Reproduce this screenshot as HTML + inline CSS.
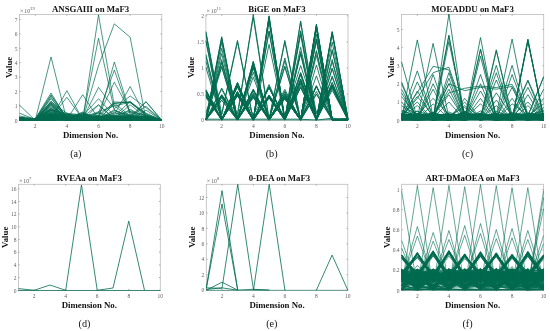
<!DOCTYPE html><html><head><meta charset="utf-8"><style>html,body{margin:0;padding:0;background:#fff;overflow:hidden}svg{display:block;filter:blur(0.25px)}</style></head><body>
<svg width="550" height="331" viewBox="0 0 550 331">
<rect width="550" height="331" fill="#fff"/>
<rect x="19.40" y="14.50" width="142.40" height="105.80" fill="none" stroke="#bcbcbc" stroke-width="0.8"/>
<path d="M35.22 120.30v-1.30M35.22 14.50v1.30M66.87 120.30v-1.30M66.87 14.50v1.30M98.51 120.30v-1.30M98.51 14.50v1.30M130.16 120.30v-1.30M130.16 14.50v1.30M19.40 120.30h1.30M161.80 120.30h-1.30M19.40 105.91h1.30M161.80 105.91h-1.30M19.40 91.51h1.30M161.80 91.51h-1.30M19.40 77.12h1.30M161.80 77.12h-1.30M19.40 62.72h1.30M161.80 62.72h-1.30M19.40 48.33h1.30M161.80 48.33h-1.30M19.40 33.93h1.30M161.80 33.93h-1.30M19.40 19.54h1.30M161.80 19.54h-1.30" stroke="#8c8c8c" stroke-width="0.7" fill="none"/>
<clipPath id="c0"><rect x="19.00" y="14.10" width="143.20" height="106.60"/></clipPath>
<g clip-path="url(#c0)" fill="none" stroke="#006c50" stroke-width="0.70" stroke-linejoin="miter" stroke-opacity="1.00">
<polyline points="19.4,119.58 35.22,120.3 51.04,56.96 66.87,120.3 82.69,118.86 98.51,117.42 114.33,118.86 130.16,118.86 145.98,119.58 161.8,120.3"/>
<polyline points="19.4,120.01 35.22,120.3 51.04,118.86 66.87,118.86 82.69,120.3 98.51,14.93 114.33,105.91 130.16,117.42 145.98,118.86 161.8,120.3"/>
<polyline points="19.4,120.01 35.22,119.58 51.04,119.58 66.87,119.58 82.69,118.86 98.51,38.25 114.33,110.22 130.16,115.98 145.98,118.86 161.8,120.3"/>
<polyline points="19.4,120.3 35.22,119.58 51.04,118.86 66.87,117.42 82.69,119.58 98.51,65.6 114.33,23.86 130.16,37.24 145.98,119.58 161.8,120.3"/>
<polyline points="19.4,119.58 35.22,119.58 51.04,119.58 66.87,117.42 82.69,118.86 98.51,118.86 114.33,62 130.16,113.1 145.98,115.98 161.8,120.3"/>
<polyline points="19.4,119.58 35.22,120.3 51.04,118.86 66.87,118.86 82.69,117.42 98.51,113.1 114.33,70.06 130.16,114.54 145.98,117.42 161.8,120.3"/>
<polyline points="19.4,119.58 35.22,119.58 51.04,117.42 66.87,115.98 82.69,118.86 98.51,115.98 114.33,82.15 130.16,111.66 145.98,118.86 161.8,120.3"/>
<polyline points="19.4,105.04 35.22,120.3 51.04,115.98 66.87,117.42 82.69,118.86 98.51,115.98 114.33,115.98 130.16,115.98 145.98,118.86 161.8,120.3"/>
<polyline points="19.4,113.1 35.22,119.58 51.04,111.66 66.87,119.58 82.69,94.68 98.51,118.86 114.33,113.1 130.16,114.54 145.98,118.86 161.8,120.3"/>
<polyline points="19.4,117.42 35.22,120.3 51.04,118.86 66.87,90.65 82.69,119.58 98.51,117.42 114.33,114.54 130.16,86.47 145.98,117.42 161.8,120.3"/>
<polyline points="19.4,118.86 35.22,120.3 51.04,117.42 66.87,97.27 82.69,118.86 98.51,87.34 114.33,108.78 130.16,95.97 145.98,107.63 161.8,120.3"/>
<polyline points="19.4,115.98 35.22,118.86 51.04,92.95 66.87,118.86 82.69,115.98 98.51,98.71 114.33,115.98 130.16,101.59 145.98,113.1 161.8,120.3"/>
<polyline points="19.4,118.86 35.22,119.58 51.04,95.83 66.87,117.42 82.69,117.42 98.51,111.66 114.33,105.91 130.16,102.31 145.98,114.54 161.8,120.3"/>
<polyline points="19.4,120.11 35.22,120.26 51.04,109.94 66.87,120.29 82.69,118.48 98.51,119.55 114.33,120.27 130.16,118.94 145.98,120.29 161.8,120.19"/>
<polyline points="19.4,120.3 35.22,120.29 51.04,116.26 66.87,115.83 82.69,120.25 98.51,119.99 114.33,118.31 130.16,116.12 145.98,118.8 161.8,120.21"/>
<polyline points="19.4,117.32 35.22,120.3 51.04,101.26 66.87,119.98 82.69,120.23 98.51,120.2 114.33,119.75 130.16,117.1 145.98,120.11 161.8,120.11"/>
<polyline points="19.4,119.27 35.22,120.06 51.04,113.22 66.87,120.29 82.69,120.29 98.51,120.03 114.33,118 130.16,119.3 145.98,119.8 161.8,120.1"/>
<polyline points="19.4,119.86 35.22,120.14 51.04,104.25 66.87,117.36 82.69,120.05 98.51,118.6 114.33,118.85 130.16,116.68 145.98,118.02 161.8,120.25"/>
<polyline points="19.4,117.29 35.22,120.28 51.04,116.39 66.87,116.71 82.69,120.22 98.51,119.03 114.33,120.29 130.16,118.07 145.98,117.81 161.8,120.11"/>
<polyline points="19.4,118.03 35.22,120.13 51.04,108.33 66.87,118.34 82.69,118.09 98.51,119.18 114.33,116.93 130.16,116.14 145.98,119.25 161.8,120.05"/>
<polyline points="19.4,120.3 35.22,119.45 51.04,110.08 66.87,113.23 82.69,115.01 98.51,119.82 114.33,119.47 130.16,118.07 145.98,120.3 161.8,120.18"/>
<polyline points="19.4,120.26 35.22,120.28 51.04,120.25 66.87,116.58 82.69,120.25 98.51,119.93 114.33,119.45 130.16,116.7 145.98,120.26 161.8,120.18"/>
<polyline points="19.4,119.59 35.22,118.95 51.04,103.12 66.87,115.31 82.69,119.95 98.51,119.35 114.33,119.57 130.16,116.61 145.98,116.57 161.8,120.29"/>
<polyline points="19.4,120.26 35.22,120.21 51.04,119.22 66.87,119.12 82.69,118 98.51,119.88 114.33,120.3 130.16,119.34 145.98,119.63 161.8,120.12"/>
<polyline points="19.4,117.49 35.22,119.48 51.04,114.1 66.87,118.14 82.69,117.05 98.51,120.28 114.33,116.49 130.16,117.35 145.98,117.13 161.8,119.93"/>
<polyline points="19.4,119.99 35.22,120.03 51.04,120.12 66.87,117.99 82.69,120.29 98.51,120.26 114.33,120.03 130.16,120.13 145.98,119.72 161.8,120.3"/>
<polyline points="19.4,120.3 35.22,120.26 51.04,120.13 66.87,119.73 82.69,120.3 98.51,116.68 114.33,118.39 130.16,120.15 145.98,119.96 161.8,120.23"/>
<polyline points="19.4,120.05 35.22,120.27 51.04,101.73 66.87,113.23 82.69,119.02 98.51,119.05 114.33,120.24 130.16,120.22 145.98,119.71 161.8,120.26"/>
<polyline points="19.4,118.32 35.22,120.25 51.04,120.29 66.87,113.95 82.69,118.55 98.51,120.15 114.33,118.76 130.16,120.29 145.98,119.02 161.8,119.75"/>
<polyline points="19.4,118.11 35.22,119.46 51.04,118.91 66.87,119.71 82.69,120.2 98.51,117.41 114.33,118.82 130.16,117.36 145.98,119.75 161.8,120.27"/>
<polyline points="19.4,118.42 35.22,118.62 51.04,101.55 66.87,116.1 82.69,115.07 98.51,117.62 114.33,119.98 130.16,118.89 145.98,119.67 161.8,120.3"/>
<polyline points="19.4,120.3 35.22,120.17 51.04,118.93 66.87,117.43 82.69,112.57 98.51,119.22 114.33,116.2 130.16,115.79 145.98,116.59 161.8,120.22"/>
<polyline points="19.4,120.23 35.22,120.21 51.04,119.56 66.87,120.16 82.69,117.64 98.51,116.49 114.33,116.93 130.16,119.07 145.98,118.43 161.8,119.93"/>
<polyline points="19.4,120.29 35.22,119.55 51.04,98.67 66.87,116.4 82.69,116.09 98.51,119.08 114.33,120.09 130.16,117.29 145.98,119.74 161.8,119.93"/>
<polyline points="19.4,117.35 35.22,120.03 51.04,116.73 66.87,114.02 82.69,116.44 98.51,120.11 114.33,120.19 130.16,120.15 145.98,116.93 161.8,119.93"/>
<polyline points="19.4,120.27 35.22,119.12 51.04,94.81 66.87,117.78 82.69,119.67 98.51,118.74 114.33,120.18 130.16,120.3 145.98,116.48 161.8,120.06"/>
<polyline points="19.4,119.66 35.22,118.79 51.04,116.06 66.87,115.19 82.69,114.94 98.51,120.02 114.33,119.92 130.16,119.79 145.98,119.99 161.8,120.1"/>
<polyline points="19.4,120.19 35.22,120 51.04,120 66.87,114.61 82.69,119.66 98.51,119.17 114.33,118.55 130.16,116.46 145.98,119.45 161.8,119.82"/>
<polyline points="19.4,119.74 35.22,119.81 51.04,113.89 66.87,120.3 82.69,119.19 98.51,120.08 114.33,120.3 130.16,117.22 145.98,120.13 161.8,120.17"/>
<polyline points="19.4,118.88 35.22,119.77 51.04,118.04 66.87,118.91 82.69,118.31 98.51,117.33 114.33,120.22 130.16,118.68 145.98,119.97 161.8,120.26"/>
<polyline points="19.4,118.64 35.22,119.85 51.04,112.81 66.87,116.68 82.69,113.43 98.51,119.24 114.33,118.39 130.16,118.95 145.98,119.09 161.8,120.02"/>
<polyline points="19.4,119.86 35.22,119.81 51.04,115.05 66.87,114.11 82.69,116.77 98.51,116.67 114.33,116.16 130.16,119.89 145.98,118.88 161.8,119.79"/>
<polyline points="19.4,118.25 35.22,120.27 51.04,120.04 66.87,119.36 82.69,120.29 98.51,119.95 114.33,120.26 130.16,118.06 145.98,117.7 161.8,119.84"/>
<polyline points="19.4,120.27 35.22,119.41 51.04,109.62 66.87,120.24 82.69,113.98 98.51,115.96 114.33,120 130.16,116.08 145.98,119.53 161.8,120.16"/>
<polyline points="19.4,117.21 35.22,119.1 51.04,119.82 66.87,119.42 82.69,118.65 98.51,119.64 114.33,120.06 130.16,119.71 145.98,118.06 161.8,120.3"/>
<polyline points="19.4,119.58 35.22,119.96 51.04,120.3 66.87,119.84 82.69,117.64 98.51,118.92 114.33,120.27 130.16,115.82 145.98,117.67 161.8,119.76"/>
<polyline points="19.4,120.29 35.22,120.18 51.04,120.28 66.87,116.45 82.69,119.97 98.51,120.18 114.33,119.32 130.16,116.4 145.98,117.49 161.8,120.26"/>
<polyline points="19.4,120.27 35.22,118.84 51.04,112.55 66.87,117.34 82.69,120.28 98.51,120.27 114.33,117.95 130.16,119.31 145.98,120.26 161.8,119.79"/>
<polyline points="19.4,119.28 35.22,119.19 51.04,120.19 66.87,115.42 82.69,120.29 98.51,116.77 114.33,119.19 130.16,119.64 145.98,118.91 161.8,119.81"/>
<polyline points="19.4,120.18 35.22,120.27 51.04,113.8 66.87,120.1 82.69,120.27 98.51,120.13 114.33,120.28 130.16,120.04 145.98,119.8 161.8,120.25"/>
<polyline points="19.4,118.71 35.22,120.15 51.04,114.5 66.87,120.2 82.69,119.69 98.51,120.3 114.33,119.92 130.16,120.3 145.98,118 161.8,120.13"/>
<polyline points="19.4,120.25 35.22,119.91 51.04,97.35 66.87,120.27 82.69,115.06 98.51,119.28 114.33,119 130.16,116.97 145.98,119.55 161.8,120.15"/>
<polyline points="19.4,119.06 35.22,118.63 51.04,117.78 66.87,115.75 82.69,116.67 98.51,118.26 114.33,119.4 130.16,119.61 145.98,120.28 161.8,120.29"/>
<polyline points="19.4,120.3 35.22,119.35 51.04,118.98 66.87,120.22 82.69,120.28 98.51,116.93 114.33,116.71 130.16,118.06 145.98,119.89 161.8,120.27"/>
<polyline points="19.4,120.15 35.22,119.94 51.04,119.84 66.87,119.34 82.69,119.99 98.51,116.01 114.33,115.92 130.16,118.74 145.98,119.98 161.8,119.76"/>
<polyline points="19.4,120.13 35.22,120.08 51.04,120.3 66.87,119.65 82.69,118.96 98.51,118.96 114.33,120.04 130.16,118.95 145.98,120.3 161.8,120.26"/>
<polyline points="19.4,120.29 35.22,120.02 51.04,120.28 66.87,120.3 82.69,119.86 98.51,119.97 114.33,118.54 130.16,118.83 145.98,117.9 161.8,120.05"/>
<polyline points="19.4,118.93 35.22,118.97 51.04,116.95 66.87,119.86 82.69,111.99 98.51,120.15 114.33,117.72 130.16,118.22 145.98,120.29 161.8,119.9"/>
<polyline points="19.4,117.92 35.22,119.62 51.04,106.82 66.87,116.02 82.69,120.24 98.51,118.86 114.33,118.96 130.16,116.97 145.98,117.57 161.8,119.91"/>
<polyline points="19.4,119.47 35.22,118.92 51.04,108.79 66.87,117.42 82.69,120.08 98.51,120.29 114.33,120.18 130.16,119.57 145.98,120.23 161.8,119.9"/>
<polyline points="19.4,119.56 35.22,119.62 51.04,110.79 66.87,117.55 82.69,118.85 98.51,120.3 114.33,117.23 130.16,117.57 145.98,119.13 161.8,120.14"/>
<polyline points="19.4,119.18 35.22,120.29 51.04,106.7 66.87,120.07 82.69,120.29 98.51,119.88 114.33,117.69 130.16,120.03 145.98,117.96 161.8,119.75"/>
<polyline points="19.4,119.76 35.22,120.05 51.04,115.03 66.87,117.52 82.69,115.85 98.51,118.37 114.33,118.22 130.16,120.25 145.98,120.17 161.8,120.26"/>
<polyline points="19.4,118.79 35.22,120.14 51.04,112.63 66.87,120.3 82.69,120.29 98.51,119.87 114.33,118.05 130.16,117.92 145.98,118.31 161.8,120.25"/>
<polyline points="19.4,119.69 35.22,119.93 51.04,115.33 66.87,120.27 82.69,113.78 98.51,120.05 114.33,115.87 130.16,116.21 145.98,120.3 161.8,120.18"/>
<polyline points="19.4,118.37 35.22,118.68 51.04,115.72 66.87,120.03 82.69,120.13 98.51,116.14 114.33,120.02 130.16,118.56 145.98,120.18 161.8,120.14"/>
<polyline points="19.4,117.49 35.22,120.27 51.04,103.08 66.87,118.97 82.69,113.9 98.51,117.86 114.33,119.97 130.16,116.51 145.98,119.2 161.8,120.3"/>
<polyline points="19.4,120.3 35.22,119.88 51.04,115.69 66.87,119.94 82.69,120.24 98.51,119.63 114.33,119.72 130.16,116.93 145.98,120.3 161.8,119.98"/>
<polyline points="19.4,118.27 35.22,120.28 51.04,114.12 66.87,118.1 82.69,116.79 98.51,119.4 114.33,109.72 130.16,118.88 145.98,101.6 161.8,120.3"/>
<polyline points="19.4,119.3 35.22,120.11 51.04,118.98 66.87,119.97 82.69,120.29 98.51,113.22 114.33,115.91 130.16,110.84 145.98,115.09 161.8,120.3"/>
<polyline points="19.4,120.12 35.22,120.2 51.04,118.42 66.87,120.14 82.69,119.7 98.51,114.92 114.33,103.09 130.16,116.09 145.98,106.37 161.8,120.3"/>
<polyline points="19.4,117.9 35.22,119.03 51.04,118.13 66.87,118.06 82.69,120.29 98.51,105.05 114.33,118.56 130.16,104.79 145.98,117.32 161.8,120.3"/>
<polyline points="19.4,120.06 35.22,120.3 51.04,114.12 66.87,120.23 82.69,119.34 98.51,119.14 114.33,110.68 130.16,116.64 145.98,101.89 161.8,120.3"/>
<polyline points="19.4,120.11 35.22,119.68 51.04,119.65 66.87,118.96 82.69,119.63 98.51,112.37 114.33,119.93 130.16,111.85 145.98,115.33 161.8,120.3"/>
<polyline points="19.4,119.59 35.22,120.23 51.04,114.39 66.87,116.01 82.69,119.43 98.51,120 114.33,112.05 130.16,120.14 145.98,110.11 161.8,120.3"/>
<polyline points="19.4,120.28 35.22,120.22 51.04,119.82 66.87,118.9 82.69,116.9 98.51,104.83 114.33,118.77 130.16,109.18 145.98,118.11 161.8,120.3"/>
<polyline points="19.4,120.05 35.22,120.14 51.04,119.83 66.87,120.12 82.69,117.65 98.51,120.24 114.33,119.39 130.16,118.87 145.98,118.16 161.8,120.3"/>
<polyline points="19.4,120.24 35.22,120.19 51.04,117.47 66.87,119.86 82.69,119.92 98.51,117.03 114.33,117.71 130.16,117.56 145.98,120.3 161.8,120.3"/>
<polyline points="19.4,120.3 35.22,119.58 51.04,105.33 66.87,119.63 82.69,119.54 98.51,120.3 114.33,119.75 130.16,117.21 145.98,118.34 161.8,120.3"/>
<polyline points="19.4,118.35 35.22,118.94 51.04,117.47 66.87,120.28 82.69,120.27 98.51,119.32 114.33,118.63 130.16,117.11 145.98,118.8 161.8,120.3"/>
<polyline points="19.4,119.33 35.22,119.46 51.04,114.05 66.87,119.32 82.69,120.3 98.51,118.1 114.33,120.11 130.16,117.25 145.98,119.1 161.8,120.3"/>
<polyline points="19.4,120.15 35.22,120.28 51.04,117.42 66.87,118.91 82.69,119.13 98.51,120.25 114.33,120.28 130.16,119.31 145.98,119.32 161.8,120.3"/>
<polyline points="19.4,120.03 35.22,120.23 51.04,111.39 66.87,120.3 82.69,120.16 98.51,119.54 114.33,116.99 130.16,118.8 145.98,118.05 161.8,120.3"/>
<polyline points="19.4,119.85 35.22,120.22 51.04,117.49 66.87,116.39 82.69,119.1 98.51,119.96 114.33,120.3 130.16,119.41 145.98,118.99 161.8,120.3"/>
<polyline points="19.4,119.97 35.22,120.2 51.04,110.09 66.87,116.74 82.69,120.23 98.51,120.3 114.33,119.89 130.16,119.66 145.98,118.96 161.8,120.3"/>
<polyline points="19.4,120.25 35.22,119.39 51.04,108.64 66.87,119.52 82.69,120.25 98.51,116.92 114.33,119.95 130.16,117.88 145.98,120.15 161.8,120.3"/>
<polyline points="19.4,120.23 35.22,119.47 51.04,116.77 66.87,116.48 82.69,119.8 98.51,120.17 114.33,120.12 130.16,119.67 145.98,119.03 161.8,120.3"/>
<polyline points="19.4,117.78 35.22,120.27 51.04,115.16 66.87,120.21 82.69,117.6 98.51,120.23 114.33,120.29 130.16,120.29 145.98,119.85 161.8,120.3"/>
<polyline points="19.4,118.1 35.22,119.18 51.04,108.77 66.87,116.01 82.69,117.89 98.51,119.91 114.33,120.18 130.16,117.15 145.98,118.7 161.8,120.3"/>
<polyline points="19.4,120.3 35.22,119.66 51.04,115.41 66.87,119.93 82.69,120.12 98.51,120.2 114.33,120.3 130.16,120.02 145.98,119.94 161.8,120.3"/>
<polyline points="19.4,117.73 35.22,120.28 51.04,103.82 66.87,120.22 82.69,120.08 98.51,117.87 114.33,117.87 130.16,119.63 145.98,120.29 161.8,120.3"/>
<polyline points="19.4,119.86 35.22,120.1 51.04,104.81 66.87,120.23 82.69,120.07 98.51,117.4 114.33,120.3 130.16,119.69 145.98,118.4 161.8,120.3"/>
<polyline points="19.4,118.61 35.22,120.3 51.04,120.29 66.87,120.28 82.69,117.86 98.51,119.73 114.33,103.03 130.16,102.31 145.98,115.65 161.8,120.3"/>
<polyline points="19.4,117.98 35.22,120.13 51.04,119.66 66.87,116.34 82.69,119.2 98.51,119.71 114.33,103.75 130.16,101.59 145.98,115.93 161.8,120.3"/>
<polyline points="19.4,120.01 35.22,120.19 51.04,120.3 66.87,117.83 82.69,117.88 98.51,116.83 114.33,101.87 130.16,102.74 145.98,113.71 161.8,120.3"/>
</g>
<g font-family='"Liberation Serif", "DejaVu Serif", serif' font-size="5.5" fill="#5f5f5f">
<text x="35.22" y="128.30" text-anchor="middle">2</text>
<text x="66.87" y="128.30" text-anchor="middle">4</text>
<text x="98.51" y="128.30" text-anchor="middle">6</text>
<text x="130.16" y="128.30" text-anchor="middle">8</text>
<text x="161.80" y="128.30" text-anchor="middle">10</text>
<text x="17.40" y="122.50" text-anchor="end">0</text>
<text x="17.40" y="108.11" text-anchor="end">1</text>
<text x="17.40" y="93.71" text-anchor="end">2</text>
<text x="17.40" y="79.32" text-anchor="end">3</text>
<text x="17.40" y="64.92" text-anchor="end">4</text>
<text x="17.40" y="50.53" text-anchor="end">5</text>
<text x="17.40" y="36.13" text-anchor="end">6</text>
<text x="17.40" y="21.74" text-anchor="end">7</text>
<text x="19.90" y="12.80" font-size="5.8"><tspan font-size="6.2" fill="#555">×</tspan><tspan dx="0.9">10</tspan><tspan font-size="4.6" dy="-2.4">39</tspan></text>
</g>
<g font-family='"Liberation Serif", "DejaVu Serif", serif' font-weight="bold" font-size="8.8" fill="#111">
<text x="90.60" y="11.60" text-anchor="middle">ANSGAIII on MaF3</text>
<text x="90.60" y="137.70" text-anchor="middle">Dimension No.</text>
<text transform="translate(11.50 67.40) rotate(-90)" text-anchor="middle">Value</text>
</g>
<text x="75.85" y="156.70" text-anchor="middle" font-family='"Liberation Serif", "DejaVu Serif", serif' font-size="10.2" fill="#111">(a)</text>
<rect x="205.90" y="14.50" width="142.10" height="105.70" fill="none" stroke="#bcbcbc" stroke-width="0.8"/>
<path d="M221.69 120.20v-1.30M221.69 14.50v1.30M253.27 120.20v-1.30M253.27 14.50v1.30M284.84 120.20v-1.30M284.84 14.50v1.30M316.42 120.20v-1.30M316.42 14.50v1.30M205.90 120.20h1.30M348.00 120.20h-1.30M205.90 94.10h1.30M348.00 94.10h-1.30M205.90 68.00h1.30M348.00 68.00h-1.30M205.90 41.90h1.30M348.00 41.90h-1.30M205.90 15.80h1.30M348.00 15.80h-1.30" stroke="#8c8c8c" stroke-width="0.7" fill="none"/>
<clipPath id="c1"><rect x="205.50" y="14.10" width="142.90" height="106.50"/></clipPath>
<g clip-path="url(#c1)" fill="none" stroke="#006c50" stroke-width="0.85" stroke-linejoin="miter" stroke-opacity="1.00">
<polyline points="205.9,32.51 221.69,113.81 237.48,40.34 253.27,119.79 269.06,84.5 284.84,119.9 300.63,51.57 316.42,120.18 332.21,85.75 348,119.53"/>
<polyline points="205.9,56.91 221.69,119.16 237.48,91.53 253.27,119.66 269.06,87.85 284.84,119.32 300.63,78.85 316.42,119.24 332.21,42.04 348,120.09"/>
<polyline points="205.9,61.29 221.69,119.67 237.48,85.5 253.27,119.61 269.06,95.99 284.84,119.2 300.63,72.53 316.42,119.27 332.21,59.53 348,118.95"/>
<polyline points="205.9,91.02 221.69,119.82 237.48,95.42 253.27,119.3 269.06,15.8 284.84,120.1 300.63,79.14 316.42,119.29 332.21,84.95 348,120.14"/>
<polyline points="205.9,92.57 221.69,119.71 237.48,92.1 253.27,119.38 269.06,96.97 284.84,119.18 300.63,54.14 316.42,119.79 332.21,90.26 348,119.85"/>
<polyline points="205.9,94.24 221.69,120.2 237.48,92.49 253.27,119.22 269.06,30.94 284.84,119.33 300.63,81.2 316.42,119.94 332.21,88.29 348,119.66"/>
<polyline points="205.9,40.53 221.69,120.13 237.48,95.5 253.27,120.16 269.06,97.5 284.84,120.13 300.63,22.07 316.42,113.93 332.21,86.89 348,120.2"/>
<polyline points="205.9,34.6 221.69,119.66 237.48,86.59 253.27,120.18 269.06,16.33 284.84,119.37 300.63,80.98 316.42,120.11 332.21,33.03 348,118.77"/>
<polyline points="205.9,97.53 221.69,119.63 237.48,95.43 253.27,119.51 269.06,97.43 284.84,119.95 300.63,87.18 316.42,120.1 332.21,49.34 348,120.2"/>
<polyline points="205.9,95.27 221.69,119.29 237.48,82.53 253.27,120.17 269.06,97.43 284.84,119.68 300.63,34.68 316.42,120.15 332.21,85.41 348,119.22"/>
<polyline points="205.9,67.31 221.69,120.03 237.48,91.54 253.27,120.06 269.06,17.37 284.84,119.26 300.63,84.45 316.42,119.51 332.21,51.04 348,118.9"/>
<polyline points="205.9,90.93 221.69,119.71 237.48,94.64 253.27,120.04 269.06,86.19 284.84,119.47 300.63,72.95 316.42,119.81 332.21,75.99 348,120.18"/>
<polyline points="205.9,40.62 221.69,120.19 237.48,95.01 253.27,119.57 269.06,44.36 284.84,119.75 300.63,87.49 316.42,119.9 332.21,82.46 348,119.77"/>
<polyline points="205.9,95.92 221.69,119.52 237.48,95.91 253.27,119.99 269.06,31.56 284.84,119.59 300.63,53.32 316.42,119.21 332.21,85.23 348,119.65"/>
<polyline points="205.9,91.34 221.69,114.9 237.48,41.9 253.27,120.13 269.06,22.44 284.84,119.25 300.63,80.72 316.42,120.13 332.21,82.74 348,118.82"/>
<polyline points="205.9,31.46 221.69,119.84 237.48,84.29 253.27,114.66 269.06,87.39 284.84,120.01 300.63,74.63 316.42,119.27 332.21,77.5 348,118.95"/>
<polyline points="205.9,54.36 221.69,119.91 237.48,82.57 253.27,119.96 269.06,87.02 284.84,119.91 300.63,31.75 316.42,120.13 332.21,61.85 348,118.69"/>
<polyline points="205.9,95.2 221.69,119.24 237.48,83.21 253.27,119.72 269.06,94.96 284.84,119.71 300.63,74.39 316.42,119.74 332.21,31.46 348,119.77"/>
<polyline points="205.9,90.55 221.69,119.88 237.48,93.69 253.27,120.01 269.06,87.29 284.84,119.6 300.63,83.07 316.42,120.08 332.21,34.07 348,120.03"/>
<polyline points="205.9,90.74 221.69,119.59 237.48,87.08 253.27,120.06 269.06,18.41 284.84,119.42 300.63,30.87 316.42,119.56 332.21,31.99 348,118.71"/>
<polyline points="205.9,93.64 221.69,119.71 237.48,86 253.27,120.08 269.06,95.44 284.84,116.24 300.63,65.59 316.42,112.4 332.21,87.11 348,120.16"/>
<polyline points="205.9,94.88 221.69,120.11 237.48,83.68 253.27,120.14 269.06,98.23 284.84,120.03 300.63,47.31 316.42,120.16 332.21,68.86 348,118.9"/>
<polyline points="205.9,89.56 221.69,119.33 237.48,93.3 253.27,120.2 269.06,96.91 284.84,119.9 300.63,86.6 316.42,119.19 332.21,68.02 348,120.06"/>
<polyline points="205.9,96.56 221.69,120.06 237.48,94.06 253.27,120.2 269.06,95.56 284.84,119.38 300.63,21.02 316.42,119.73 332.21,86.74 348,119.54"/>
<polyline points="205.9,119.63 221.69,97.3 237.48,119.34 253.27,97.16 269.06,119.73 284.84,98.51 300.63,120.12 316.42,38.81 332.21,119.9 348,120.09"/>
<polyline points="205.9,119.32 221.69,95.46 237.48,119.94 253.27,95.83 269.06,120.14 284.84,98.23 300.63,119.85 316.42,75.88 332.21,119.37 348,119.78"/>
<polyline points="205.9,119.35 221.69,67.12 237.48,120 253.27,94.06 269.06,119.41 284.84,94.49 300.63,120.16 316.42,94.32 332.21,120.09 348,119.4"/>
<polyline points="205.9,116.55 221.69,59.5 237.48,119.39 253.27,67.75 269.06,120.1 284.84,89.25 300.63,120.2 316.42,85.67 332.21,119.97 348,120.02"/>
<polyline points="205.9,119.88 221.69,62.85 237.48,116.63 253.27,14.24 269.06,119.26 284.84,98.39 300.63,119.7 316.42,26.76 332.21,120.07 348,119.97"/>
<polyline points="205.9,120.18 221.69,48.35 237.48,119.68 253.27,90.14 269.06,119.74 284.84,98.81 300.63,120.03 316.42,86.57 332.21,119.23 348,118.72"/>
<polyline points="205.9,112.57 221.69,66.31 237.48,120.13 253.27,96.5 269.06,120.18 284.84,66.15 300.63,120.11 316.42,55.37 332.21,119.56 348,119.16"/>
<polyline points="205.9,119.63 221.69,36.68 237.48,119.46 253.27,97.9 269.06,119.16 284.84,66.85 300.63,119.65 316.42,26.24 332.21,119.86 348,119.24"/>
<polyline points="205.9,119.58 221.69,88 237.48,119.18 253.27,63.83 269.06,119.85 284.84,96.72 300.63,119.45 316.42,64.96 332.21,119.65 348,120.04"/>
<polyline points="205.9,119.69 221.69,53.58 237.48,119.31 253.27,62.78 269.06,120.03 284.84,57.95 300.63,120.17 316.42,86.46 332.21,120.01 348,118.81"/>
<polyline points="205.9,119.99 221.69,61.55 237.48,119.64 253.27,92.8 269.06,120.18 284.84,95.43 300.63,119.7 316.42,93.81 332.21,119.38 348,120.15"/>
<polyline points="205.9,119.47 221.69,95.69 237.48,119.93 253.27,95.52 269.06,119.7 284.84,94.3 300.63,119.19 316.42,39.92 332.21,119.31 348,119.73"/>
<polyline points="205.9,120.03 221.69,100.1 237.48,120.1 253.27,90.97 269.06,119.4 284.84,91.71 300.63,120.16 316.42,51.62 332.21,119.92 348,119.13"/>
<polyline points="205.9,119.77 221.69,96.54 237.48,119.3 253.27,61.22 269.06,120.07 284.84,97.42 300.63,119.72 316.42,34.34 332.21,120.13 348,120.04"/>
<polyline points="205.9,119.83 221.69,42.42 237.48,119.87 253.27,61.74 269.06,119.16 284.84,97.84 300.63,120.12 316.42,26.63 332.21,119.66 348,120.2"/>
<polyline points="205.9,119.54 221.69,95.31 237.48,113.37 253.27,17.37 269.06,119.85 284.84,98.79 300.63,120.14 316.42,41.07 332.21,119.92 348,120.17"/>
<polyline points="205.9,119.64 221.69,37.73 237.48,119.48 253.27,66.51 269.06,119.29 284.84,60.78 300.63,119.99 316.42,24.68 332.21,120.19 348,120.07"/>
<polyline points="205.9,119.84 221.69,96.41 237.48,119.18 253.27,67.47 269.06,119.99 284.84,96 300.63,119.84 316.42,24.16 332.21,120.11 348,119.4"/>
<polyline points="205.9,119.2 221.69,94.64 237.48,119.16 253.27,77.11 269.06,119.77 284.84,41.9 300.63,119.75 316.42,85.89 332.21,120.16 348,120.2"/>
<polyline points="205.9,119.86 221.69,100.27 237.48,120.18 253.27,89.14 269.06,119.78 284.84,40.34 300.63,120.14 316.42,50.59 332.21,119.6 348,119"/>
<polyline points="205.9,120.19 221.69,39.29 237.48,119.68 253.27,94.78 269.06,119.64 284.84,93.5 300.63,119.91 316.42,27.14 332.21,119.26 348,120.2"/>
<polyline points="205.9,120.15 221.69,95.15 237.48,119.58 253.27,72.25 269.06,120.12 284.84,97.07 300.63,120.2 316.42,29.3 332.21,119.74 348,118.89"/>
<polyline points="205.9,119.81 221.69,97.81 237.48,119.49 253.27,89.54 269.06,119.59 284.84,98.37 300.63,120.18 316.42,91.43 332.21,119.72 348,118.66"/>
<polyline points="205.9,120.14 221.69,89.42 237.48,119.78 253.27,65.39 269.06,119.86 284.84,91.27 300.63,119.68 316.42,25.72 332.21,120.2 348,119.5"/>
<polyline points="205.9,120.2 221.69,120.2 237.48,120.2 253.27,120.2 269.06,120.2 284.84,120.2 300.63,120.2 316.42,120.2 332.21,119.68 348,120.2"/>
<polyline points="205.9,119.16 221.69,119.16 237.48,119.16 253.27,119.16 269.06,119.16 284.84,119.16 300.63,119.16 316.42,120.2 332.21,118.11 348,120.2"/>
</g>
<g font-family='"Liberation Serif", "DejaVu Serif", serif' font-size="5.5" fill="#5f5f5f">
<text x="221.69" y="128.20" text-anchor="middle">2</text>
<text x="253.27" y="128.20" text-anchor="middle">4</text>
<text x="284.84" y="128.20" text-anchor="middle">6</text>
<text x="316.42" y="128.20" text-anchor="middle">8</text>
<text x="348.00" y="128.20" text-anchor="middle">10</text>
<text x="203.90" y="122.40" text-anchor="end">0</text>
<text x="203.90" y="96.30" text-anchor="end">0.5</text>
<text x="203.90" y="70.20" text-anchor="end">1</text>
<text x="203.90" y="44.10" text-anchor="end">1.5</text>
<text x="203.90" y="18.00" text-anchor="end">2</text>
<text x="206.40" y="12.80" font-size="5.8"><tspan font-size="6.2" fill="#555">×</tspan><tspan dx="0.9">10</tspan><tspan font-size="4.6" dy="-2.4">11</tspan></text>
</g>
<g font-family='"Liberation Serif", "DejaVu Serif", serif' font-weight="bold" font-size="8.8" fill="#111">
<text x="276.95" y="11.60" text-anchor="middle">BiGE on MaF3</text>
<text x="276.95" y="137.60" text-anchor="middle">Dimension No.</text>
<text transform="translate(194.20 67.35) rotate(-90)" text-anchor="middle">Value</text>
</g>
<text x="271.60" y="156.70" text-anchor="middle" font-family='"Liberation Serif", "DejaVu Serif", serif' font-size="10.2" fill="#111">(b)</text>
<rect x="401.50" y="14.50" width="142.20" height="105.80" fill="none" stroke="#bcbcbc" stroke-width="0.8"/>
<path d="M417.30 120.30v-1.30M417.30 14.50v1.30M448.90 120.30v-1.30M448.90 14.50v1.30M480.50 120.30v-1.30M480.50 14.50v1.30M512.10 120.30v-1.30M512.10 14.50v1.30M401.50 120.30h1.30M543.70 120.30h-1.30M401.50 102.12h1.30M543.70 102.12h-1.30M401.50 83.94h1.30M543.70 83.94h-1.30M401.50 65.76h1.30M543.70 65.76h-1.30M401.50 47.59h1.30M543.70 47.59h-1.30M401.50 29.41h1.30M543.70 29.41h-1.30" stroke="#8c8c8c" stroke-width="0.7" fill="none"/>
<clipPath id="c2"><rect x="401.10" y="14.10" width="143.00" height="106.60"/></clipPath>
<g clip-path="url(#c2)" fill="none" stroke="#006c50" stroke-width="0.80" stroke-linejoin="miter" stroke-opacity="1.00">
<polyline points="401.5,102 417.3,120.23 433.1,74.54 448.9,120 464.7,111.91 480.5,116.7 496.3,118.36 512.1,115.3 527.9,118.48 543.7,117.24"/>
<polyline points="401.5,92.84 417.3,119.4 433.1,112.27 448.9,117.8 464.7,105.66 480.5,116.68 496.3,72.71 512.1,120.11 527.9,40.68 543.7,119.29"/>
<polyline points="401.5,81.86 417.3,119.58 433.1,89.18 448.9,120.06 464.7,98.33 480.5,118.47 496.3,49.83 512.1,119.92 527.9,105.66 543.7,119.66"/>
<polyline points="401.5,115.54 417.3,120 433.1,83.69 448.9,117.24 464.7,111.57 480.5,120.29 496.3,111.39 512.1,116.96 527.9,87.35 543.7,119.83"/>
<polyline points="401.5,119.08 417.3,120.26 433.1,118.84 448.9,115.39 464.7,107.49 480.5,119.73 496.3,50.74 512.1,115.34 527.9,80.03 543.7,115.87"/>
<polyline points="401.5,117.53 417.3,115.7 433.1,113.96 448.9,120.01 464.7,112.09 480.5,118.66 496.3,115.5 512.1,120.13 527.9,117.74 543.7,115.38"/>
<polyline points="401.5,110.37 417.3,116.06 433.1,116.64 448.9,117.56 464.7,116.05 480.5,118.63 496.3,105.66 512.1,119.21 527.9,41.59 543.7,116.2"/>
<polyline points="401.5,118.1 417.3,118.49 433.1,43.42 448.9,117.57 464.7,102 480.5,120 496.3,100.17 512.1,119.73 527.9,94.67 543.7,120.23"/>
<polyline points="401.5,96.5 417.3,116.99 433.1,116.09 448.9,118.04 464.7,114.39 480.5,120 496.3,115.05 512.1,115.84 527.9,80.95 543.7,119.54"/>
<polyline points="401.5,61.73 417.3,118.85 433.1,112.38 448.9,119.96 464.7,111.37 480.5,119.52 496.3,92.84 512.1,116.08 527.9,102 543.7,119.24"/>
<polyline points="401.5,83.69 417.3,119.92 433.1,103.83 448.9,118.41 464.7,112.13 480.5,119.31 496.3,80.03 512.1,115.59 527.9,119.92 543.7,120.09"/>
<polyline points="401.5,105.66 417.3,114.98 433.1,113.81 448.9,120.23 464.7,119.87 480.5,115.65 496.3,114.37 512.1,117.3 527.9,118.28 543.7,119.77"/>
<polyline points="401.5,89.18 417.3,118.49 433.1,116.42 448.9,119.46 464.7,114.54 480.5,119.58 496.3,118.4 512.1,119.8 527.9,39.03 543.7,119.09"/>
<polyline points="401.5,111.66 417.3,114.88 433.1,98.33 448.9,114.82 464.7,117.54 480.5,115.41 496.3,65.39 512.1,120.13 527.9,39.76 543.7,119.44"/>
<polyline points="401.5,115.64 417.3,102 433.1,120.22 448.9,72.71 464.7,116.9 480.5,119.72 496.3,119.43 512.1,103.83 527.9,114.98 543.7,115.79"/>
<polyline points="401.5,120.29 417.3,119.77 433.1,116.32 448.9,94.67 464.7,119.21 480.5,83.69 496.3,120.01 512.1,98.33 527.9,120.3 543.7,113.56"/>
<polyline points="401.5,116.13 417.3,70.88 433.1,118.2 448.9,35 464.7,119.86 480.5,56.23 496.3,118.72 512.1,116.83 527.9,115.52 543.7,77.28"/>
<polyline points="401.5,119.74 417.3,91.01 433.1,117.93 448.9,102 464.7,120.02 480.5,110.98 496.3,119.88 512.1,114.29 527.9,116.59 543.7,114.62"/>
<polyline points="401.5,117 417.3,111.41 433.1,119.82 448.9,14.13 464.7,120.18 480.5,116.32 496.3,120.16 512.1,113.93 527.9,117.69 543.7,117.71"/>
<polyline points="401.5,118.38 417.3,114.08 433.1,119.51 448.9,78.2 464.7,119.79 480.5,49.83 496.3,117.67 512.1,116.53 527.9,117.03 543.7,113.85"/>
<polyline points="401.5,116.29 417.3,119.69 433.1,117.86 448.9,36.1 464.7,119.8 480.5,74.54 496.3,120.21 512.1,74.54 527.9,116.86 543.7,110.67"/>
<polyline points="401.5,118.87 417.3,39.94 433.1,116.93 448.9,89.18 464.7,120.23 480.5,48.91 496.3,116.29 512.1,118.73 527.9,119.23 543.7,107.49"/>
<polyline points="401.5,116.06 417.3,111.1 433.1,115.89 448.9,115.99 464.7,118.4 480.5,103.83 496.3,120.29 512.1,119.23 527.9,115.53 543.7,103.83"/>
<polyline points="401.5,118.49 417.3,81.86 433.1,115.83 448.9,114.25 464.7,119.55 480.5,98.33 496.3,119.86 512.1,112.37 527.9,116.14 543.7,76.37"/>
<polyline points="401.5,119.08 417.3,119.98 433.1,119.94 448.9,111.93 464.7,119.06 480.5,91.01 496.3,117.78 512.1,87.35 527.9,120.3 543.7,89.18"/>
<polyline points="401.5,118.24 417.3,113.39 433.1,118.67 448.9,117.19 464.7,118.27 480.5,37.56 496.3,120.07 512.1,115.07 527.9,116.98 543.7,118.69"/>
<polyline points="401.5,116.25 417.3,96.5 433.1,115.88 448.9,83.69 464.7,119.3 480.5,113.17 496.3,117.01 512.1,65.39 527.9,119.01 543.7,116.34"/>
<polyline points="401.5,116.72 417.3,105.66 433.1,120.22 448.9,41.59 464.7,115.82 480.5,117.18 496.3,115.18 512.1,39.03 527.9,118.39 543.7,98.33"/>
<polyline points="401.5,114.81 417.3,92.84 433.1,66.3 448.9,69.96 464.7,114.81 480.5,114.81 496.3,116.64 512.1,114.81 527.9,116.64 543.7,114.81"/>
<polyline points="401.5,116.64 417.3,98.33 433.1,72.71 448.9,67.22 464.7,112.98 480.5,116.64 496.3,114.81 512.1,116.64 527.9,114.81 543.7,116.64"/>
<polyline points="401.5,114.81 417.3,116.64 433.1,114.81 448.9,92.84 464.7,88.27 480.5,86.07 496.3,87.53 512.1,84.42 527.9,112.98 543.7,114.81"/>
<polyline points="401.5,116.64 417.3,114.81 433.1,116.64 448.9,83.69 464.7,90.65 480.5,87.35 496.3,89.18 512.1,86.44 527.9,114.81 543.7,111.15"/>
<polyline points="401.5,117.34 417.3,117.22 433.1,117.17 448.9,120.24 464.7,113.97 480.5,119.21 496.3,119.44 512.1,119.87 527.9,119.05 543.7,115.13"/>
<polyline points="401.5,120.2 417.3,119.9 433.1,116.01 448.9,119.37 464.7,120.25 480.5,116.73 496.3,116.9 512.1,117.27 527.9,115.99 543.7,119.87"/>
<polyline points="401.5,114.73 417.3,115.88 433.1,120.14 448.9,119.77 464.7,117.48 480.5,117.43 496.3,118.87 512.1,119.77 527.9,118.07 543.7,119.69"/>
<polyline points="401.5,116.79 417.3,114.79 433.1,119.64 448.9,116.92 464.7,115.66 480.5,119.55 496.3,115.06 512.1,114.2 527.9,118.18 543.7,117.97"/>
<polyline points="401.5,114.96 417.3,117.25 433.1,118.13 448.9,114.17 464.7,115.43 480.5,118.5 496.3,119.11 512.1,118.53 527.9,117.87 543.7,113.86"/>
<polyline points="401.5,115.23 417.3,114.39 433.1,115.14 448.9,114.9 464.7,120.1 480.5,117.31 496.3,114.04 512.1,114.23 527.9,119.06 543.7,117.96"/>
<polyline points="401.5,116.5 417.3,118.34 433.1,117.22 448.9,120.03 464.7,117.89 480.5,117.4 496.3,120.24 512.1,119.68 527.9,113.95 543.7,115.43"/>
<polyline points="401.5,114.21 417.3,116.49 433.1,115.19 448.9,114.61 464.7,114.61 480.5,120.18 496.3,116.43 512.1,118.96 527.9,116.16 543.7,118.91"/>
<polyline points="401.5,117.14 417.3,114.3 433.1,116.58 448.9,119.05 464.7,117.29 480.5,117.88 496.3,114.1 512.1,118.82 527.9,118.71 543.7,116.39"/>
<polyline points="401.5,119.78 417.3,116.77 433.1,114.06 448.9,117.34 464.7,118.94 480.5,117.66 496.3,117.2 512.1,119.63 527.9,119.76 543.7,119.72"/>
<polyline points="401.5,118.79 417.3,118.06 433.1,118.82 448.9,119.09 464.7,119.94 480.5,117.11 496.3,114.96 512.1,116.66 527.9,116.94 543.7,116.37"/>
<polyline points="401.5,119.34 417.3,115.93 433.1,117.7 448.9,117.1 464.7,116.64 480.5,117.64 496.3,118.68 512.1,119.1 527.9,119.22 543.7,117.35"/>
<polyline points="401.5,118.22 417.3,116.83 433.1,120.27 448.9,118.41 464.7,114.79 480.5,119.12 496.3,117.04 512.1,117.49 527.9,118.84 543.7,113.81"/>
<polyline points="401.5,118.77 417.3,115.47 433.1,119.58 448.9,120.04 464.7,114.71 480.5,117.84 496.3,120.07 512.1,118.19 527.9,117.84 543.7,115.74"/>
<polyline points="401.5,119.84 417.3,119.2 433.1,114.03 448.9,115.72 464.7,119.6 480.5,118.51 496.3,118.41 512.1,116.19 527.9,116.61 543.7,114.88"/>
<polyline points="401.5,115.1 417.3,117.31 433.1,115.72 448.9,115.68 464.7,115.56 480.5,117.6 496.3,115.37 512.1,115.94 527.9,114.38 543.7,119.74"/>
<polyline points="401.5,114.72 417.3,120.29 433.1,115.52 448.9,116.83 464.7,117.45 480.5,114 496.3,116.93 512.1,117.99 527.9,115.38 543.7,114.7"/>
<polyline points="401.5,116.68 417.3,118.24 433.1,117.76 448.9,117.72 464.7,115.83 480.5,118.79 496.3,118.17 512.1,117.05 527.9,118.21 543.7,118.61"/>
<polyline points="401.5,115.36 417.3,114.88 433.1,117.43 448.9,117.81 464.7,119.43 480.5,118.72 496.3,119.65 512.1,116.9 527.9,116.86 543.7,119.94"/>
<polyline points="401.5,114.34 417.3,118.6 433.1,114.93 448.9,114.97 464.7,114.04 480.5,119.32 496.3,117.93 512.1,114.41 527.9,120.27 543.7,120.13"/>
<polyline points="401.5,116.98 417.3,117.45 433.1,114.34 448.9,115.46 464.7,117.16 480.5,113.72 496.3,117.31 512.1,117.31 527.9,116.11 543.7,118.17"/>
<polyline points="401.5,118.38 417.3,116.77 433.1,118.42 448.9,114.12 464.7,116.18 480.5,117.26 496.3,119.89 512.1,118.27 527.9,118.1 543.7,117"/>
<polyline points="401.5,116.91 417.3,114.65 433.1,113.99 448.9,117.52 464.7,117.84 480.5,116.55 496.3,113.74 512.1,118.47 527.9,117.22 543.7,115.14"/>
<polyline points="401.5,119.51 417.3,118.63 433.1,113.88 448.9,115.06 464.7,117.34 480.5,119.83 496.3,114.54 512.1,116.08 527.9,115.1 543.7,113.79"/>
<polyline points="401.5,114.58 417.3,117.97 433.1,119.59 448.9,118.81 464.7,117.35 480.5,117.4 496.3,119.41 512.1,119.44 527.9,116.51 543.7,116.71"/>
<polyline points="401.5,118.41 417.3,113.76 433.1,116.47 448.9,120.15 464.7,118.03 480.5,115.35 496.3,118.7 512.1,116.07 527.9,120.29 543.7,118.72"/>
<polyline points="401.5,114.94 417.3,116.83 433.1,116.24 448.9,119.36 464.7,117.45 480.5,117.06 496.3,118.95 512.1,116.39 527.9,117.21 543.7,113.73"/>
<polyline points="401.5,116.91 417.3,118.03 433.1,119.77 448.9,119.59 464.7,115.56 480.5,119.85 496.3,119.88 512.1,119.51 527.9,117.28 543.7,115.08"/>
<polyline points="401.5,116.64 417.3,115.21 433.1,120.07 448.9,120.27 464.7,115.48 480.5,118.6 496.3,115.89 512.1,118.41 527.9,119.52 543.7,118.95"/>
<polyline points="401.5,119.89 417.3,114.46 433.1,116.86 448.9,118.44 464.7,117.77 480.5,118.2 496.3,120.1 512.1,114.57 527.9,116.85 543.7,114.03"/>
<polyline points="401.5,117.84 417.3,116.59 433.1,119.06 448.9,120.14 464.7,114.25 480.5,114.84 496.3,118.65 512.1,114.5 527.9,115.14 543.7,118.72"/>
<polyline points="401.5,116.71 417.3,114.03 433.1,117.46 448.9,114.11 464.7,119.09 480.5,118.17 496.3,115.87 512.1,119.22 527.9,118.69 543.7,114.68"/>
<polyline points="401.5,117.54 417.3,115.31 433.1,119.09 448.9,119.49 464.7,118.38 480.5,119.42 496.3,113.93 512.1,118.8 527.9,117 543.7,119.81"/>
<polyline points="401.5,117.2 417.3,118.2 433.1,118.08 448.9,120.05 464.7,119.77 480.5,115.06 496.3,118.42 512.1,119.08 527.9,119.4 543.7,118.85"/>
<polyline points="401.5,119.13 417.3,120.18 433.1,116.27 448.9,118.49 464.7,119.59 480.5,115.96 496.3,119.92 512.1,118.93 527.9,114.99 543.7,119.74"/>
<polyline points="401.5,117.82 417.3,114.98 433.1,115.22 448.9,119.57 464.7,118.41 480.5,115.84 496.3,118.26 512.1,114.04 527.9,119.3 543.7,114.1"/>
<polyline points="401.5,117.4 417.3,119.19 433.1,117.75 448.9,119.73 464.7,115.96 480.5,118.99 496.3,114.5 512.1,116.82 527.9,118.31 543.7,119.07"/>
<polyline points="401.5,116.67 417.3,119.27 433.1,114.71 448.9,119.77 464.7,117.34 480.5,117.14 496.3,118.93 512.1,115.47 527.9,118.21 543.7,116.32"/>
<polyline points="401.5,116.96 417.3,118.68 433.1,118.17 448.9,119.95 464.7,119.47 480.5,114.87 496.3,118.61 512.1,116.28 527.9,119.84 543.7,117"/>
<polyline points="401.5,118.36 417.3,117.43 433.1,118.77 448.9,120.05 464.7,118.68 480.5,119.19 496.3,119.75 512.1,115.88 527.9,118.86 543.7,118.08"/>
<polyline points="401.5,114.42 417.3,115.45 433.1,114.63 448.9,114.79 464.7,119.72 480.5,118.89 496.3,120.2 512.1,116.15 527.9,116.27 543.7,118.42"/>
<polyline points="401.5,118.02 417.3,116.3 433.1,116.01 448.9,119.06 464.7,114.9 480.5,118.42 496.3,116.52 512.1,119.45 527.9,119.81 543.7,114.39"/>
<polyline points="401.5,115.75 417.3,115.91 433.1,120.16 448.9,120.16 464.7,119.56 480.5,119.36 496.3,118.73 512.1,118.23 527.9,120.16 543.7,118.68"/>
<polyline points="401.5,116.45 417.3,119.46 433.1,114.96 448.9,116.94 464.7,115.88 480.5,119.02 496.3,117.87 512.1,116.12 527.9,118.44 543.7,120.3"/>
<polyline points="401.5,115 417.3,115.44 433.1,118.83 448.9,120.15 464.7,114.85 480.5,116.68 496.3,120.13 512.1,119.08 527.9,119.83 543.7,115.32"/>
<polyline points="401.5,119.29 417.3,114.38 433.1,115.64 448.9,119.95 464.7,116.04 480.5,118.15 496.3,115.65 512.1,115.04 527.9,118.86 543.7,119.93"/>
<polyline points="401.5,114.13 417.3,117.95 433.1,114.26 448.9,116.07 464.7,115.72 480.5,115.03 496.3,116.53 512.1,117.75 527.9,120.1 543.7,116.02"/>
<polyline points="401.5,117.92 417.3,117.35 433.1,114.27 448.9,119.74 464.7,115.54 480.5,120.15 496.3,115.98 512.1,115.22 527.9,118.98 543.7,117.11"/>
<polyline points="401.5,113.95 417.3,116.46 433.1,117.13 448.9,119.05 464.7,120.08 480.5,118.38 496.3,118.03 512.1,119.34 527.9,118.68 543.7,119.7"/>
<polyline points="401.5,115.95 417.3,116.22 433.1,119.12 448.9,119.1 464.7,117.33 480.5,117.81 496.3,114.21 512.1,118.42 527.9,118.75 543.7,114.61"/>
<polyline points="401.5,119.67 417.3,116.99 433.1,118.54 448.9,115.14 464.7,117.1 480.5,115.56 496.3,119.52 512.1,116.25 527.9,116.74 543.7,117.7"/>
<polyline points="401.5,115.51 417.3,115.02 433.1,119.81 448.9,118.81 464.7,118.36 480.5,119.31 496.3,120.07 512.1,118.86 527.9,119.36 543.7,115.99"/>
<polyline points="401.5,117.79 417.3,119.82 433.1,118.59 448.9,117.65 464.7,118.35 480.5,119.52 496.3,120.02 512.1,120.27 527.9,113.77 543.7,115.63"/>
<polyline points="401.5,119.96 417.3,115.88 433.1,113.87 448.9,116.99 464.7,119.84 480.5,117.51 496.3,117.88 512.1,119.4 527.9,117.13 543.7,120.28"/>
<polyline points="401.5,114.34 417.3,116.41 433.1,116.53 448.9,114.22 464.7,116.35 480.5,119.04 496.3,119.08 512.1,119.68 527.9,120.21 543.7,115.45"/>
<polyline points="401.5,114.96 417.3,118.77 433.1,119.43 448.9,116.46 464.7,114.91 480.5,114.29 496.3,119.52 512.1,115.37 527.9,115.03 543.7,115.69"/>
<polyline points="401.5,118.58 417.3,119.43 433.1,115.07 448.9,118.62 464.7,118.31 480.5,117.08 496.3,118.31 512.1,115.02 527.9,119.11 543.7,120.16"/>
<polyline points="401.5,116.97 417.3,116.53 433.1,115.11 448.9,115.96 464.7,114.45 480.5,114.14 496.3,117.47 512.1,117.43 527.9,119.58 543.7,118.75"/>
<polyline points="401.5,116.86 417.3,119.98 433.1,116.09 448.9,119.55 464.7,117.82 480.5,113.95 496.3,119.94 512.1,120.16 527.9,117.84 543.7,119.4"/>
<polyline points="401.5,115.84 417.3,120.29 433.1,114.95 448.9,114.84 464.7,115.36 480.5,117.94 496.3,118.85 512.1,116.29 527.9,117.33 543.7,117.97"/>
<polyline points="401.5,118.5 417.3,117.85 433.1,116.25 448.9,115.06 464.7,114.46 480.5,119.54 496.3,118.77 512.1,117.82 527.9,116.99 543.7,118.44"/>
<polyline points="401.5,119.37 417.3,119.96 433.1,118.6 448.9,117.7 464.7,113.94 480.5,114.43 496.3,114.76 512.1,113.91 527.9,114.01 543.7,116.59"/>
<polyline points="401.5,115.17 417.3,120.07 433.1,116.18 448.9,116.66 464.7,118.76 480.5,116.94 496.3,114.08 512.1,117.56 527.9,116.39 543.7,118.75"/>
<polyline points="401.5,118.47 417.3,114.61 433.1,120.21 448.9,119.41 464.7,116.16 480.5,117.79 496.3,119.96 512.1,116.29 527.9,118.29 543.7,116.87"/>
<polyline points="401.5,118 417.3,117.22 433.1,116.98 448.9,118.13 464.7,119.81 480.5,119.46 496.3,114.57 512.1,117.1 527.9,119.82 543.7,114.78"/>
<polyline points="401.5,119.03 417.3,119.91 433.1,117.22 448.9,119.04 464.7,117.51 480.5,117.06 496.3,119.19 512.1,116.92 527.9,119.82 543.7,117.34"/>
<polyline points="401.5,116.81 417.3,119.98 433.1,118.05 448.9,120.01 464.7,117.84 480.5,114.77 496.3,117.08 512.1,115.9 527.9,115.58 543.7,119.81"/>
<polyline points="401.5,113.78 417.3,115.85 433.1,119.87 448.9,115.03 464.7,118.16 480.5,119.51 496.3,114.03 512.1,116.99 527.9,115.45 543.7,119.69"/>
<polyline points="401.5,115.44 417.3,120.09 433.1,119.13 448.9,118.29 464.7,120.26 480.5,116.77 496.3,119.27 512.1,118.75 527.9,115.95 543.7,117.93"/>
<polyline points="401.5,114.58 417.3,116.58 433.1,114.71 448.9,116.99 464.7,114.36 480.5,114.72 496.3,119.53 512.1,115.67 527.9,118.49 543.7,115.53"/>
<polyline points="401.5,116.15 417.3,115.06 433.1,119.77 448.9,118.28 464.7,115.73 480.5,114.12 496.3,115.84 512.1,120.15 527.9,116.7 543.7,119.89"/>
<polyline points="401.5,117.09 417.3,115.24 433.1,119.82 448.9,114.3 464.7,116.19 480.5,119.02 496.3,119.38 512.1,117.79 527.9,114.97 543.7,116.86"/>
<polyline points="401.5,119.82 417.3,120.24 433.1,119.83 448.9,115.25 464.7,119.43 480.5,117.05 496.3,118.81 512.1,116.1 527.9,118.23 543.7,119.65"/>
<polyline points="401.5,114.68 417.3,117.17 433.1,116.08 448.9,115.2 464.7,114.11 480.5,120.26 496.3,118.48 512.1,119.62 527.9,117.42 543.7,114.7"/>
<polyline points="401.5,115.25 417.3,120.18 433.1,119.45 448.9,115.12 464.7,116.16 480.5,118.15 496.3,117.6 512.1,119.58 527.9,114.92 543.7,118.15"/>
<polyline points="401.5,114.7 417.3,116.65 433.1,120 448.9,118.56 464.7,119.25 480.5,114.54 496.3,116.81 512.1,120.15 527.9,119.52 543.7,118.36"/>
<polyline points="401.5,117.65 417.3,116.89 433.1,118.19 448.9,118.41 464.7,120.29 480.5,116.88 496.3,118.53 512.1,120.24 527.9,117.71 543.7,113.82"/>
<polyline points="401.5,120.14 417.3,119.65 433.1,116.22 448.9,118.91 464.7,118.91 480.5,117.43 496.3,118.98 512.1,116.95 527.9,117.24 543.7,114.05"/>
<polyline points="401.5,113.77 417.3,120.19 433.1,117.01 448.9,115.48 464.7,114.71 480.5,115.45 496.3,116.49 512.1,116.48 527.9,118.35 543.7,118.86"/>
<polyline points="401.5,115.29 417.3,114.7 433.1,114.19 448.9,116.14 464.7,118.72 480.5,115.53 496.3,115.71 512.1,117.37 527.9,116.48 543.7,118.43"/>
<polyline points="401.5,117.08 417.3,118.07 433.1,120.07 448.9,118.51 464.7,118.6 480.5,113.8 496.3,117.56 512.1,118.32 527.9,119.09 543.7,119.14"/>
<polyline points="401.5,118.44 417.3,119.7 433.1,120.28 448.9,114.72 464.7,117.75 480.5,117.8 496.3,116.95 512.1,118.73 527.9,119.52 543.7,120.05"/>
<polyline points="401.5,118.74 417.3,118.69 433.1,115.81 448.9,117.08 464.7,114.2 480.5,118.49 496.3,114.33 512.1,116.85 527.9,119.98 543.7,119.47"/>
<polyline points="401.5,116.87 417.3,113.81 433.1,118.39 448.9,115.45 464.7,117.92 480.5,114.74 496.3,120.04 512.1,117.54 527.9,114.5 543.7,118.89"/>
<polyline points="401.5,119.01 417.3,120.23 433.1,119.54 448.9,118.94 464.7,115.97 480.5,119.24 496.3,118.11 512.1,119.34 527.9,116.71 543.7,114.77"/>
<polyline points="401.5,116.38 417.3,119.36 433.1,115.75 448.9,114 464.7,116.72 480.5,119.99 496.3,115.19 512.1,114.68 527.9,118.49 543.7,119.7"/>
<polyline points="401.5,119.41 417.3,117.18 433.1,114.68 448.9,116.44 464.7,114.32 480.5,119.27 496.3,118.58 512.1,115.64 527.9,116.38 543.7,118.07"/>
<polyline points="401.5,116.16 417.3,118.51 433.1,120.09 448.9,118.01 464.7,120.14 480.5,116.54 496.3,118.53 512.1,117.47 527.9,116.75 543.7,119.01"/>
<polyline points="401.5,117.68 417.3,120.26 433.1,114.3 448.9,116.98 464.7,113.81 480.5,120.09 496.3,116.63 512.1,115.83 527.9,118.56 543.7,119.92"/>
<polyline points="401.5,119.59 417.3,119.66 433.1,115.51 448.9,119.93 464.7,115.15 480.5,117.95 496.3,117.16 512.1,116.81 527.9,117.05 543.7,116.32"/>
<polyline points="401.5,116.72 417.3,118.55 433.1,115.7 448.9,119 464.7,115.92 480.5,115.53 496.3,115.44 512.1,118.69 527.9,115.46 543.7,113.89"/>
<polyline points="401.5,117.75 417.3,118.88 433.1,117.27 448.9,114.17 464.7,119.72 480.5,120.28 496.3,117.6 512.1,116.33 527.9,115.45 543.7,118.35"/>
<polyline points="401.5,113.79 417.3,119.18 433.1,115.58 448.9,119.93 464.7,120.21 480.5,119.71 496.3,120.07 512.1,117.42 527.9,117.05 543.7,119.45"/>
<polyline points="401.5,114.18 417.3,118.33 433.1,119.63 448.9,119.47 464.7,115.73 480.5,114.33 496.3,119.56 512.1,120.21 527.9,115.42 543.7,119.1"/>
<polyline points="401.5,113.85 417.3,117.44 433.1,116.47 448.9,118.47 464.7,115.25 480.5,117.7 496.3,118.6 512.1,114.47 527.9,119.84 543.7,115.76"/>
<polyline points="401.5,120.05 417.3,116.4 433.1,118.09 448.9,114.77 464.7,120.07 480.5,116.98 496.3,118.04 512.1,114.34 527.9,114.14 543.7,116.54"/>
<polyline points="401.5,119.21 417.3,119.04 433.1,118.98 448.9,117.88 464.7,119.16 480.5,119.33 496.3,115.57 512.1,116.42 527.9,118.76 543.7,113.76"/>
<polyline points="401.5,119.25 417.3,116.95 433.1,119.59 448.9,114.78 464.7,114.73 480.5,118.95 496.3,115.62 512.1,115.09 527.9,118.85 543.7,118.55"/>
<polyline points="401.5,117.53 417.3,114.56 433.1,119.56 448.9,116.13 464.7,116.75 480.5,117.75 496.3,116.88 512.1,114.63 527.9,119.29 543.7,114.62"/>
<polyline points="401.5,118.36 417.3,115.41 433.1,114.78 448.9,119.45 464.7,114.77 480.5,113.75 496.3,118.76 512.1,120.22 527.9,119.83 543.7,113.91"/>
</g>
<g font-family='"Liberation Serif", "DejaVu Serif", serif' font-size="5.5" fill="#5f5f5f">
<text x="417.30" y="128.30" text-anchor="middle">2</text>
<text x="448.90" y="128.30" text-anchor="middle">4</text>
<text x="480.50" y="128.30" text-anchor="middle">6</text>
<text x="512.10" y="128.30" text-anchor="middle">8</text>
<text x="543.70" y="128.30" text-anchor="middle">10</text>
<text x="399.50" y="122.50" text-anchor="end">0</text>
<text x="399.50" y="104.32" text-anchor="end">1</text>
<text x="399.50" y="86.14" text-anchor="end">2</text>
<text x="399.50" y="67.96" text-anchor="end">3</text>
<text x="399.50" y="49.79" text-anchor="end">4</text>
<text x="399.50" y="31.61" text-anchor="end">5</text>
</g>
<g font-family='"Liberation Serif", "DejaVu Serif", serif' font-weight="bold" font-size="8.8" fill="#111">
<text x="472.60" y="11.60" text-anchor="middle">MOEADDU on MaF3</text>
<text x="472.60" y="137.70" text-anchor="middle">Dimension No.</text>
<text transform="translate(393.60 67.40) rotate(-90)" text-anchor="middle">Value</text>
</g>
<text x="467.60" y="156.70" text-anchor="middle" font-family='"Liberation Serif", "DejaVu Serif", serif' font-size="10.2" fill="#111">(c)</text>
<rect x="18.40" y="184.30" width="141.90" height="106.00" fill="none" stroke="#bcbcbc" stroke-width="0.8"/>
<path d="M34.17 290.30v-1.30M34.17 184.30v1.30M65.70 290.30v-1.30M65.70 184.30v1.30M97.23 290.30v-1.30M97.23 184.30v1.30M128.77 290.30v-1.30M128.77 184.30v1.30M18.40 290.30h1.30M160.30 290.30h-1.30M18.40 277.61h1.30M160.30 277.61h-1.30M18.40 264.91h1.30M160.30 264.91h-1.30M18.40 252.22h1.30M160.30 252.22h-1.30M18.40 239.52h1.30M160.30 239.52h-1.30M18.40 226.83h1.30M160.30 226.83h-1.30M18.40 214.13h1.30M160.30 214.13h-1.30M18.40 201.44h1.30M160.30 201.44h-1.30M18.40 188.74h1.30M160.30 188.74h-1.30" stroke="#8c8c8c" stroke-width="0.7" fill="none"/>
<clipPath id="c3"><rect x="18.00" y="183.90" width="142.70" height="106.80"/></clipPath>
<g clip-path="url(#c3)" fill="none" stroke="#006c50" stroke-width="0.80" stroke-linejoin="miter" stroke-opacity="1.00">
<polyline points="18.4,288.59 34.17,290.3 49.93,285.03 65.7,290.3 81.47,184.93 97.23,290.3 113,288.01 128.77,221.11 144.53,290.3"/>
<path d="M18.00 290.55H160.70" stroke-width="1.0"/>
</g>
<g font-family='"Liberation Serif", "DejaVu Serif", serif' font-size="5.5" fill="#5f5f5f">
<text x="34.17" y="298.30" text-anchor="middle">2</text>
<text x="65.70" y="298.30" text-anchor="middle">4</text>
<text x="97.23" y="298.30" text-anchor="middle">6</text>
<text x="128.77" y="298.30" text-anchor="middle">8</text>
<text x="160.30" y="298.30" text-anchor="middle">10</text>
<text x="16.40" y="292.50" text-anchor="end">0</text>
<text x="16.40" y="279.81" text-anchor="end">2</text>
<text x="16.40" y="267.11" text-anchor="end">4</text>
<text x="16.40" y="254.42" text-anchor="end">6</text>
<text x="16.40" y="241.72" text-anchor="end">8</text>
<text x="16.40" y="229.03" text-anchor="end">10</text>
<text x="16.40" y="216.33" text-anchor="end">12</text>
<text x="16.40" y="203.64" text-anchor="end">14</text>
<text x="16.40" y="190.94" text-anchor="end">16</text>
<text x="18.90" y="182.60" font-size="5.8"><tspan font-size="6.2" fill="#555">×</tspan><tspan dx="0.9">10</tspan><tspan font-size="4.6" dy="-2.4">7</tspan></text>
</g>
<g font-family='"Liberation Serif", "DejaVu Serif", serif' font-weight="bold" font-size="8.8" fill="#111">
<text x="89.35" y="181.40" text-anchor="middle">RVEAa on MaF3</text>
<text x="89.35" y="307.70" text-anchor="middle">Dimension No.</text>
<text transform="translate(8.20 237.30) rotate(-90)" text-anchor="middle">Value</text>
</g>
<text x="84.50" y="326.90" text-anchor="middle" font-family='"Liberation Serif", "DejaVu Serif", serif' font-size="10.2" fill="#111">(d)</text>
<rect x="206.30" y="184.30" width="141.50" height="105.90" fill="none" stroke="#bcbcbc" stroke-width="0.8"/>
<path d="M222.02 290.20v-1.30M222.02 184.30v1.30M253.47 290.20v-1.30M253.47 184.30v1.30M284.91 290.20v-1.30M284.91 184.30v1.30M316.36 290.20v-1.30M316.36 184.30v1.30M206.30 290.20h1.30M347.80 290.20h-1.30M206.30 274.74h1.30M347.80 274.74h-1.30M206.30 259.28h1.30M347.80 259.28h-1.30M206.30 243.82h1.30M347.80 243.82h-1.30M206.30 228.36h1.30M347.80 228.36h-1.30M206.30 212.90h1.30M347.80 212.90h-1.30M206.30 197.44h1.30M347.80 197.44h-1.30" stroke="#8c8c8c" stroke-width="0.7" fill="none"/>
<clipPath id="c4"><rect x="205.90" y="183.90" width="142.30" height="106.70"/></clipPath>
<g clip-path="url(#c4)" fill="none" stroke="#006c50" stroke-width="0.80" stroke-linejoin="miter" stroke-opacity="1.00">
<polyline points="206.3,287.85 222.02,190.58 237.74,290.2"/>
<polyline points="206.3,288.63 222.02,203.91 237.74,290.2 253.47,289.26 269.19,290.2"/>
<polyline points="206.3,290.2 222.02,282.2 237.74,290.2"/>
<polyline points="206.3,287.85 222.02,288.24 237.74,184.3 253.47,289.73 269.19,290.2"/>
<polyline points="206.3,289.42 222.02,287.85 237.74,290.2"/>
<polyline points="253.47,290.2 269.19,184.3 284.91,290.2"/>
<polyline points="316.36,290.2 332.08,255.06 347.8,290.2"/>
<path d="M205.90 290.45H348.20" stroke-width="1.0"/>
</g>
<g font-family='"Liberation Serif", "DejaVu Serif", serif' font-size="5.5" fill="#5f5f5f">
<text x="222.02" y="298.20" text-anchor="middle">2</text>
<text x="253.47" y="298.20" text-anchor="middle">4</text>
<text x="284.91" y="298.20" text-anchor="middle">6</text>
<text x="316.36" y="298.20" text-anchor="middle">8</text>
<text x="347.80" y="298.20" text-anchor="middle">10</text>
<text x="204.30" y="292.40" text-anchor="end">0</text>
<text x="204.30" y="276.94" text-anchor="end">2</text>
<text x="204.30" y="261.48" text-anchor="end">4</text>
<text x="204.30" y="246.02" text-anchor="end">6</text>
<text x="204.30" y="230.56" text-anchor="end">8</text>
<text x="204.30" y="215.10" text-anchor="end">10</text>
<text x="204.30" y="199.64" text-anchor="end">12</text>
<text x="206.80" y="182.60" font-size="5.8"><tspan font-size="6.2" fill="#555">×</tspan><tspan dx="0.9">10</tspan><tspan font-size="4.6" dy="-2.4">8</tspan></text>
</g>
<g font-family='"Liberation Serif", "DejaVu Serif", serif' font-weight="bold" font-size="8.8" fill="#111">
<text x="279.45" y="181.40" text-anchor="middle">0-DEA on MaF3</text>
<text x="277.05" y="307.60" text-anchor="middle">Dimension No.</text>
<text transform="translate(195.30 237.25) rotate(-90)" text-anchor="middle">Value</text>
</g>
<text x="271.80" y="326.90" text-anchor="middle" font-family='"Liberation Serif", "DejaVu Serif", serif' font-size="10.2" fill="#111">(e)</text>
<rect x="401.60" y="184.30" width="142.00" height="106.00" fill="none" stroke="#bcbcbc" stroke-width="0.8"/>
<path d="M417.38 290.30v-1.30M417.38 184.30v1.30M448.93 290.30v-1.30M448.93 184.30v1.30M480.49 290.30v-1.30M480.49 184.30v1.30M512.04 290.30v-1.30M512.04 184.30v1.30M401.60 290.30h1.30M543.60 290.30h-1.30M401.60 270.15h1.30M543.60 270.15h-1.30M401.60 250.00h1.30M543.60 250.00h-1.30M401.60 229.84h1.30M543.60 229.84h-1.30M401.60 209.69h1.30M543.60 209.69h-1.30M401.60 189.54h1.30M543.60 189.54h-1.30" stroke="#8c8c8c" stroke-width="0.7" fill="none"/>
<clipPath id="c5"><rect x="401.20" y="183.90" width="142.80" height="106.80"/></clipPath>
<g clip-path="url(#c5)" fill="none" stroke="#006c50" stroke-width="0.60" stroke-linejoin="miter" stroke-opacity="1.00">
<polyline points="401.6,190.68 417.38,288.31 433.16,187.69 448.93,288.31 464.71,186.69 480.49,288.31 496.27,185.69 512.04,288.31 527.82,187.69 543.6,288.31"/>
<polyline points="401.6,288.31 417.38,185.69 433.16,288.31 448.93,185.69 464.71,288.31 480.49,184.7 496.27,288.31 512.04,187.69 527.82,288.31 543.6,190.68"/>
<polyline points="401.6,247.96 417.38,285.27 433.16,241.19 448.93,280.78 464.71,235.26 480.49,284.57 496.27,238.64 512.04,281.65 527.82,239.49 543.6,284.83"/>
<polyline points="401.6,240.49 417.38,284.48 433.16,232.52 448.93,281.92 464.71,225.54 480.49,284.87 496.27,229.53 512.04,283.63 527.82,230.53 543.6,280.74"/>
<polyline points="401.6,281.75 417.38,236.1 433.16,280.93 448.93,239.49 464.71,280.44 480.49,233.56 496.27,285.15 512.04,237.8 527.82,284.15 543.6,243.73"/>
<polyline points="401.6,281.37 417.38,226.54 433.16,281.88 448.93,230.53 464.71,285.13 480.49,223.55 496.27,282.8 512.04,228.53 527.82,284.17 543.6,235.51"/>
<polyline points="401.6,285.32 417.38,265.39 433.16,282.33 448.93,268.38 464.71,284.32 480.49,270.38 496.27,285.32 512.04,266.39 527.82,286.32 543.6,197.65"/>
<polyline points="401.6,284.32 417.38,270.38 433.16,280.34 448.93,272.37 464.71,282.33 480.49,268.38 496.27,283.33 512.04,270.38 527.82,285.32 543.6,208.61"/>
<polyline points="401.6,256.41 417.38,279.5 433.16,255.93 448.93,272.44 464.71,256.02 480.49,273.34 496.27,256.4 512.04,276.45 527.82,255.37 543.6,276.92"/>
<polyline points="401.6,278.91 417.38,253.49 433.16,279.16 448.93,251.35 464.71,276.35 480.49,255.58 496.27,277.52 512.04,255.18 527.82,273.02 543.6,256.78"/>
<polyline points="401.6,257.51 417.38,272.63 433.16,250.83 448.93,274.51 464.71,256.26 480.49,278.93 496.27,255.38 512.04,279.79 527.82,256.37 543.6,276.28"/>
<polyline points="401.6,277.08 417.38,253.98 433.16,277.45 448.93,256.17 464.71,274.85 480.49,252.64 496.27,276 512.04,254.97 527.82,274.84 543.6,254.49"/>
<polyline points="401.6,254.81 417.38,274.62 433.16,252.8 448.93,277.8 464.71,255.52 480.49,272.58 496.27,254.73 512.04,277.27 527.82,253.68 543.6,279.2"/>
<polyline points="401.6,272.38 417.38,258.06 433.16,275.49 448.93,250.69 464.71,278.31 480.49,252.8 496.27,277.33 512.04,256.44 527.82,278.76 543.6,258.22"/>
<polyline points="401.6,254.9 417.38,274.09 433.16,250.75 448.93,279.94 464.71,254.42 480.49,277.75 496.27,253.63 512.04,275.96 527.82,254.17 543.6,272.59"/>
<polyline points="401.6,280.33 417.38,253.27 433.16,273.54 448.93,252.27 464.71,275.62 480.49,251.46 496.27,278.47 512.04,254.66 527.82,274.41 543.6,256.64"/>
<polyline points="401.6,255.33 417.38,277.2 433.16,252.2 448.93,275.45 464.71,254.48 480.49,277.77 496.27,253.7 512.04,276.01 527.82,254.73 543.6,275.46"/>
<polyline points="401.6,278.23 417.38,252.73 433.16,276.57 448.93,251.41 464.71,276.18 480.49,253.37 496.27,278.57 512.04,257.11 527.82,272.95 543.6,256"/>
<polyline points="401.6,256.02 417.38,276.13 433.16,251.08 448.93,278.44 464.71,256.89 480.49,273.79 496.27,254.39 512.04,275.23 527.82,252.01 543.6,273.21"/>
<polyline points="401.6,273.42 417.38,257.24 433.16,277.3 448.93,251.01 464.71,273.82 480.49,255.48 496.27,279.11 512.04,256.38 527.82,279.52 543.6,256.75"/>
<polyline points="401.6,255.03 417.38,276.18 433.16,252.54 448.93,279.64 464.71,255.63 480.49,272.39 496.27,253.45 512.04,276.76 527.82,253.36 543.6,273.98"/>
<polyline points="401.6,274.29 417.38,256.16 433.16,274.92 448.93,252.96 464.71,276.19 480.49,254.63 496.27,277.38 512.04,255.9 527.82,277.3 543.6,259.41"/>
<polyline points="401.6,257.6 417.38,275.79 433.16,255.29 448.93,278.92 464.71,254.34 480.49,278.15 496.27,255.05 512.04,278.41 527.82,251.99 543.6,279.61"/>
<polyline points="401.6,275.27 417.38,252.89 433.16,278.73 448.93,252.68 464.71,274.02 480.49,252.78 496.27,277.38 512.04,258.1 527.82,276.81 543.6,256.7"/>
<polyline points="401.6,255.33 417.38,277.98 433.16,252.75 448.93,275.17 464.71,254.03 480.49,277.53 496.27,254.74 512.04,275.73 527.82,251.68 543.6,278.81"/>
<polyline points="401.6,272.6 417.38,253.39 433.16,277.37 448.93,251.62 464.71,277.71 480.49,256.01 496.27,274.31 512.04,255.7 527.82,276.15 543.6,256.13"/>
<polyline points="401.6,254.73 417.38,274.3 433.16,255.81 448.93,275.61 464.71,255.33 480.49,276.65 496.27,252.95 512.04,277.03 527.82,253.39 543.6,273.24"/>
<polyline points="401.6,276.83 417.38,254.25 433.16,276.26 448.93,251.04 464.71,274.99 480.49,252.31 496.27,277.14 512.04,258.15 527.82,274.92 543.6,255.9"/>
<polyline points="401.6,255.14 417.38,274.2 433.16,254.64 448.93,278.58 464.71,257.7 480.49,273.82 496.27,256.57 512.04,279.63 527.82,252.27 543.6,275.84"/>
<polyline points="401.6,279.9 417.38,253.5 433.16,274.67 448.93,252.4 464.71,279.9 480.49,252.5 496.27,277.01 512.04,254.83 527.82,272.38 543.6,254.99"/>
<polyline points="401.6,254.82 417.38,279.18 433.16,253.14 448.93,276.21 464.71,258.88 480.49,272.46 496.27,255.33 512.04,278.25 527.82,254.19 543.6,278.31"/>
<polyline points="401.6,273.49 417.38,253.98 433.16,276.27 448.93,252.69 464.71,279.93 480.49,254.23 496.27,273.43 512.04,254.06 527.82,273.51 543.6,257.26"/>
<polyline points="401.6,257.59 417.38,279.92 433.16,252.15 448.93,277.36 464.71,255.32 480.49,276.44 496.27,253.87 512.04,277.42 527.82,252.1 543.6,278.74"/>
<polyline points="401.6,273.01 417.38,253.98 433.16,279.93 448.93,253.25 464.71,276.09 480.49,253.69 496.27,275.84 512.04,255.98 527.82,278.16 543.6,255.05"/>
<polyline points="401.6,257.08 417.38,274.67 433.16,251.11 448.93,275.62 464.71,255.36 480.49,272.89 496.27,254.46 512.04,273.34 527.82,256.17 543.6,276.88"/>
<polyline points="401.6,275.24 417.38,257.16 433.16,273.46 448.93,255.12 464.71,275.59 480.49,255.02 496.27,272.99 512.04,254.92 527.82,273.96 543.6,256.12"/>
<polyline points="401.6,255.46 417.38,274.96 433.16,253.36 448.93,278.66 464.71,253.94 480.49,279.18 496.27,252.7 512.04,278.69 527.82,255.69 543.6,279.58"/>
<polyline points="401.6,274.09 417.38,252.59 433.16,277.03 448.93,251.65 464.71,278.28 480.49,251.75 496.27,274.87 512.04,257.02 527.82,279.89 543.6,255.39"/>
<polyline points="401.6,259 417.38,273.67 433.16,253.37 448.93,278.48 464.71,254.84 480.49,277.8 496.27,253.96 512.04,279.11 527.82,251.73 543.6,277.75"/>
<polyline points="401.6,273.63 417.38,256.14 433.16,273.97 448.93,250.51 464.71,277.22 480.49,256.53 496.27,277.31 512.04,254.62 527.82,278.56 543.6,255.93"/>
<polyline points="401.6,258.42 417.38,276.64 433.16,251.39 448.93,276.91 464.71,254.48 480.49,279.43 496.27,252.99 512.04,279.36 527.82,251.69 543.6,272.4"/>
<polyline points="401.6,272.85 417.38,254.11 433.16,278.02 448.93,253.07 464.71,274.36 480.49,253.28 496.27,272.93 512.04,257.54 527.82,276.47 543.6,254.84"/>
<polyline points="401.6,255.74 417.38,276.03 433.16,254.93 448.93,279.22 464.71,256.27 480.49,273.22 496.27,252.93 512.04,278.53 527.82,251.69 543.6,280.08"/>
<polyline points="401.6,275.57 417.38,252.54 433.16,277.59 448.93,250.63 464.71,275.11 480.49,256.27 496.27,277.68 512.04,255.38 527.82,278.37 543.6,255.23"/>
<polyline points="401.6,257.75 417.38,274.06 433.16,253.34 448.93,279.78 464.71,254.93 480.49,279.58 496.27,254 512.04,274.06 527.82,252.87 543.6,276.66"/>
<polyline points="401.6,280.07 417.38,254.16 433.16,279.56 448.93,251.7 464.71,279.29 480.49,252.94 496.27,277.53 512.04,255.73 527.82,275.05 543.6,257.85"/>
<polyline points="401.6,257.81 417.38,272.83 433.16,253.15 448.93,273.62 464.71,253.82 480.49,276.51 496.27,256.16 512.04,279.59 527.82,251.83 543.6,279.4"/>
<polyline points="401.6,276.38 417.38,254.07 433.16,279.4 448.93,252.47 464.71,279.03 480.49,253.11 496.27,276.3 512.04,255.76 527.82,278.76 543.6,256.53"/>
<polyline points="401.6,275.52 417.38,288.78 433.16,275.2 448.93,279.88 464.71,272.85 480.49,279.65 496.27,277.21 512.04,279.02 527.82,272.97 543.6,280.84"/>
<polyline points="401.6,283.48 417.38,271.17 433.16,287.56 448.93,270.62 464.71,288.46 480.49,274.98 496.27,289.93 512.04,273.82 527.82,284.11 543.6,274.73"/>
<polyline points="401.6,269.36 417.38,289.29 433.16,272.16 448.93,287.5 464.71,272.01 480.49,280.93 496.27,270.98 512.04,289.56 527.82,275.15 543.6,283.14"/>
<polyline points="401.6,278.55 417.38,276.98 433.16,282.91 448.93,271.15 464.71,280.56 480.49,274.28 496.27,280.61 512.04,273.21 527.82,279.29 543.6,277.25"/>
<polyline points="401.6,268.92 417.38,285.37 433.16,273.7 448.93,289.25 464.71,275.15 480.49,281.53 496.27,271.26 512.04,288.49 527.82,274.26 543.6,288.62"/>
<polyline points="401.6,287.93 417.38,275.38 433.16,286.34 448.93,268.6 464.71,278.38 480.49,270.25 496.27,284.56 512.04,272.89 527.82,280.98 543.6,269.21"/>
<polyline points="401.6,270.61 417.38,282.69 433.16,275.56 448.93,282.83 464.71,269.77 480.49,280.9 496.27,276.52 512.04,281.72 527.82,274.22 543.6,288.36"/>
<polyline points="401.6,278.75 417.38,271.32 433.16,281.39 448.93,276.14 464.71,280.4 480.49,268.95 496.27,279.48 512.04,270.67 527.82,280.35 543.6,270.16"/>
<polyline points="401.6,272.06 417.38,285.1 433.16,269.95 448.93,280.92 464.71,269.54 480.49,286.73 496.27,268.73 512.04,283.94 527.82,268.87 543.6,288.92"/>
<polyline points="401.6,278.72 417.38,270.29 433.16,287.29 448.93,269.83 464.71,287.53 480.49,275.57 496.27,284.83 512.04,275.23 527.82,284.41 543.6,269.21"/>
<polyline points="401.6,271.2 417.38,281.81 433.16,273.83 448.93,280.93 464.71,270.23 480.49,282.14 496.27,268.91 512.04,280.43 527.82,273.71 543.6,289.26"/>
<polyline points="401.6,282.5 417.38,269.85 433.16,286.24 448.93,272.02 464.71,280.3 480.49,270.24 496.27,290.25 512.04,272.96 527.82,290.1 543.6,276.36"/>
<polyline points="401.6,270.06 417.38,285.3 433.16,271.93 448.93,284.83 464.71,274.34 480.49,287.75 496.27,274.18 512.04,280.2 527.82,271.8 543.6,286.81"/>
<polyline points="401.6,289.25 417.38,274.92 433.16,281.92 448.93,273.39 464.71,282.4 480.49,270.11 496.27,288.86 512.04,271.23 527.82,289.8 543.6,269.97"/>
<polyline points="401.6,275.7 417.38,287.05 433.16,268.76 448.93,285.97 464.71,275.34 480.49,279.66 496.27,271.88 512.04,279.61 527.82,273.81 543.6,284.33"/>
<polyline points="401.6,278.87 417.38,272.81 433.16,278.48 448.93,275.65 464.71,280.37 480.49,275.89 496.27,284 512.04,277.35 527.82,288.2 543.6,268.88"/>
<polyline points="401.6,273.27 417.38,280.62 433.16,275.1 448.93,286.09 464.71,276.44 480.49,283.69 496.27,269.62 512.04,284.16 527.82,273.97 543.6,279.2"/>
<polyline points="401.6,279.61 417.38,271.37 433.16,289.39 448.93,271.75 464.71,284.99 480.49,268.76 496.27,285.97 512.04,271.42 527.82,282.75 543.6,273.98"/>
<polyline points="401.6,272.67 417.38,282.21 433.16,269.21 448.93,284.35 464.71,274.09 480.49,278.63 496.27,276.84 512.04,280.32 527.82,271.22 543.6,283.64"/>
<polyline points="401.6,284.95 417.38,270.61 433.16,279.65 448.93,270.81 464.71,281.34 480.49,277.03 496.27,286.41 512.04,276.12 527.82,278.91 543.6,269.36"/>
<polyline points="401.6,276.05 417.38,283.28 433.16,272.18 448.93,289.74 464.71,273.83 480.49,281.37 496.27,271.6 512.04,286.94 527.82,270.51 543.6,286.82"/>
<polyline points="401.6,283.79 417.38,273.58 433.16,278.61 448.93,271.53 464.71,280.68 480.49,271.28 496.27,285.75 512.04,268.71 527.82,281.82 543.6,271.15"/>
<polyline points="401.6,274.86 417.38,288.36 433.16,272.19 448.93,280.43 464.71,270.23 480.49,286.15 496.27,276.09 512.04,284.13 527.82,269.48 543.6,288.36"/>
<polyline points="401.6,281.47 417.38,275.82 433.16,286.57 448.93,276.87 464.71,286.74 480.49,273.92 496.27,278.74 512.04,268.72 527.82,288.06 543.6,274.57"/>
<polyline points="401.6,268.89 417.38,287.94 433.16,274.47 448.93,285.06 464.71,276.38 480.49,287.19 496.27,273.82 512.04,285.69 527.82,268.71 543.6,287.11"/>
<polyline points="401.6,287.86 417.38,269.2 433.16,284.92 448.93,269.84 464.71,282.68 480.49,270.37 496.27,286.54 512.04,275.99 527.82,281.25 543.6,273.13"/>
<polyline points="401.6,272.34 417.38,282.28 433.16,270.6 448.93,287.01 464.71,274.1 480.49,279.33 496.27,272.6 512.04,286.85 527.82,271.7 543.6,287.19"/>
<polyline points="401.6,281.08 417.38,276.98 433.16,280.42 448.93,272.27 464.71,286.07 480.49,268.92 496.27,287.13 512.04,275.17 527.82,289.46 543.6,272.43"/>
<polyline points="401.6,270.59 417.38,282.19 433.16,273.65 448.93,280.64 464.71,276.35 480.49,286.63 496.27,271.57 512.04,278.74 527.82,271.67 543.6,282.03"/>
<polyline points="401.6,281.04 417.38,273.81 433.16,279.06 448.93,270.69 464.71,286.21 480.49,273.83 496.27,280.67 512.04,274.21 527.82,288.08 543.6,269.53"/>
<polyline points="401.6,272.58 417.38,284.07 433.16,271.35 448.93,279.52 464.71,276.15 480.49,286.25 496.27,276.76 512.04,285.36 527.82,272.85 543.6,280.12"/>
<polyline points="401.6,282.32 417.38,272.17 433.16,285.47 448.93,272.2 464.71,287.03 480.49,269.77 496.27,280.87 512.04,269.83 527.82,288.49 543.6,271.33"/>
<polyline points="401.6,270.59 417.38,284.32 433.16,269.29 448.93,279.55 464.71,270.69 480.49,280.49 496.27,271.53 512.04,279.8 527.82,276.17 543.6,281.88"/>
<polyline points="401.6,281.89 417.38,271.86 433.16,287.01 448.93,276.75 464.71,283.09 480.49,269.96 496.27,287.04 512.04,275.44 527.82,287.62 543.6,276.51"/>
<polyline points="401.6,271.29 417.38,278.65 433.16,270.16 448.93,286 464.71,271.08 480.49,289.44 496.27,269.83 512.04,286.41 527.82,277.32 543.6,282.78"/>
<polyline points="401.6,288.64 417.38,274.88 433.16,289.59 448.93,273.35 464.71,283.67 480.49,270.11 496.27,289.83 512.04,269.93 527.82,288.98 543.6,275.34"/>
<polyline points="401.6,271.71 417.38,286.23 433.16,274.38 448.93,283.5 464.71,275.4 480.49,280.81 496.27,275.48 512.04,280.27 527.82,270.1 543.6,283.88"/>
<polyline points="401.6,289.94 417.38,270.37 433.16,289.96 448.93,272.82 464.71,285.23 480.49,276.78 496.27,282.77 512.04,270.85 527.82,283.31 543.6,273.76"/>
<polyline points="401.6,272.76 417.38,283.26 433.16,275.32 448.93,279.93 464.71,268.42 480.49,280.69 496.27,268.73 512.04,286.36 527.82,268.51 543.6,289.45"/>
<polyline points="401.6,284.59 417.38,276.15 433.16,284.87 448.93,271.23 464.71,281.83 480.49,273.27 496.27,286.22 512.04,275.65 527.82,285.48 543.6,274.82"/>
<polyline points="401.6,275.61 417.38,281.5 433.16,272.72 448.93,285.06 464.71,275.58 480.49,281.89 496.27,275.58 512.04,287.12 527.82,272.33 543.6,281.92"/>
<polyline points="401.6,278.67 417.38,270.65 433.16,278.96 448.93,269.1 464.71,281.66 480.49,270.9 496.27,289.55 512.04,275.51 527.82,290.14 543.6,269.61"/>
<polyline points="401.6,270.88 417.38,282.77 433.16,274.98 448.93,286.05 464.71,275.88 480.49,282.74 496.27,268.46 512.04,286.64 527.82,276.95 543.6,288.21"/>
<polyline points="401.6,286.05 417.38,269.29 433.16,280.68 448.93,273.27 464.71,289.08 480.49,276.39 496.27,288.46 512.04,270.38 527.82,284.67 543.6,268.47"/>
<polyline points="401.6,269.17 417.38,280.8 433.16,273.08 448.93,280.47 464.71,276.2 480.49,289 496.27,272.3 512.04,284.23 527.82,275.47 543.6,287.29"/>
<polyline points="401.6,290.05 417.38,269.2 433.16,281.81 448.93,268.87 464.71,278.58 480.49,273.43 496.27,281.54 512.04,273.9 527.82,280.59 543.6,269.8"/>
<polyline points="401.6,276.15 417.38,290.15 433.16,275.43 448.93,283.3 464.71,273.95 480.49,290.19 496.27,269.9 512.04,280.9 527.82,273.19 543.6,289.78"/>
<polyline points="401.6,279.67 417.38,272.56 433.16,289.45 448.93,274.45 464.71,282.83 480.49,269.41 496.27,284.51 512.04,271.62 527.82,287.84 543.6,275.17"/>
<polyline points="401.6,269.23 417.38,285.73 433.16,276.42 448.93,283.23 464.71,276.22 480.49,287.91 496.27,273.26 512.04,283.3 527.82,271.64 543.6,281.85"/>
<polyline points="401.6,285.04 417.38,276.74 433.16,281.64 448.93,276.87 464.71,284.67 480.49,273.76 496.27,282.26 512.04,270.95 527.82,287.43 543.6,271.53"/>
<polyline points="401.6,271.14 417.38,284.66 433.16,276.08 448.93,279.43 464.71,271.98 480.49,289.55 496.27,275.21 512.04,278.5 527.82,275.3 543.6,285.61"/>
<polyline points="401.6,280.88 417.38,269.96 433.16,282.72 448.93,270.7 464.71,289.84 480.49,276.51 496.27,278.63 512.04,270.15 527.82,289.84 543.6,276.91"/>
<polyline points="401.6,275.19 417.38,279.17 433.16,275.38 448.93,282.27 464.71,269.01 480.49,282.67 496.27,269.11 512.04,287.16 527.82,275.97 543.6,290.08"/>
<polyline points="401.6,281.25 417.38,276.42 433.16,278.67 448.93,270.98 464.71,288.07 480.49,270.11 496.27,288.35 512.04,272.76 527.82,289.04 543.6,270.29"/>
<polyline points="401.6,269.37 417.38,279.35 433.16,277.33 448.93,280.12 464.71,272.36 480.49,280.48 496.27,272.84 512.04,282.89 527.82,272.02 543.6,280.74"/>
<polyline points="401.6,289.37 417.38,276.86 433.16,283.78 448.93,274.74 464.71,285.55 480.49,277.28 496.27,281.39 512.04,277.13 527.82,280.38 543.6,270.07"/>
<polyline points="401.6,273.24 417.38,288.84 433.16,271.52 448.93,287.82 464.71,273.5 480.49,288.98 496.27,268.59 512.04,283.77 527.82,274.19 543.6,289.18"/>
<polyline points="401.6,281.57 417.38,269.73 433.16,280.16 448.93,276.44 464.71,285.91 480.49,274.63 496.27,281.19 512.04,276.02 527.82,283.05 543.6,268.57"/>
<polyline points="401.6,270.46 417.38,290.22 433.16,276.68 448.93,288.94 464.71,271.14 480.49,283.14 496.27,272.69 512.04,284.85 527.82,273.7 543.6,283"/>
<polyline points="401.6,282.55 417.38,269.13 433.16,281.54 448.93,270.21 464.71,279.39 480.49,269.84 496.27,281.73 512.04,277.07 527.82,282.16 543.6,269.73"/>
<polyline points="401.6,273.49 417.38,279.8 433.16,275.74 448.93,279.03 464.71,273.39 480.49,281.85 496.27,275.08 512.04,286.71 527.82,274.22 543.6,286.42"/>
<polyline points="401.6,289.17 417.38,273.38 433.16,278.57 448.93,271.48 464.71,279.16 480.49,270.51 496.27,280.3 512.04,268.43 527.82,281.3 543.6,274.89"/>
<polyline points="401.6,275.11 417.38,285.37 433.16,277.16 448.93,287.54 464.71,269.4 480.49,279.29 496.27,274.4 512.04,281.09 527.82,270.4 543.6,279.66"/>
<polyline points="401.6,280.8 417.38,272.58 433.16,289.05 448.93,269.95 464.71,286.55 480.49,271.73 496.27,285.91 512.04,272.53 527.82,278.76 543.6,275.9"/>
<polyline points="401.6,272.59 417.38,282.53 433.16,272.52 448.93,279.09 464.71,273.7 480.49,279.38 496.27,271.16 512.04,278.73 527.82,276.55 543.6,287.76"/>
<polyline points="401.6,286.86 417.38,269.22 433.16,290.14 448.93,275.02 464.71,281.74 480.49,268.48 496.27,288.19 512.04,273.42 527.82,282.09 543.6,271.16"/>
<polyline points="401.6,270.66 417.38,281.3 433.16,275.12 448.93,287.23 464.71,277.1 480.49,282.04 496.27,275.47 512.04,287.2 527.82,268.7 543.6,282.61"/>
<polyline points="401.6,283.23 417.38,271.47 433.16,283.15 448.93,271.12 464.71,286.67 480.49,276.78 496.27,289.5 512.04,277.22 527.82,285.98 543.6,276.07"/>
<polyline points="401.6,276.34 417.38,284.4 433.16,268.66 448.93,282.08 464.71,274.9 480.49,281.1 496.27,275.75 512.04,289.1 527.82,274.63 543.6,285.41"/>
<polyline points="401.6,282.06 417.38,273.36 433.16,281.59 448.93,276.5 464.71,279.15 480.49,274.28 496.27,280.35 512.04,277.07 527.82,280.39 543.6,275.32"/>
<polyline points="401.6,271.47 417.38,277.68 433.16,289.16 448.93,279.37 464.71,273.87 480.49,279.04 496.27,289.72 512.04,276.32 527.82,274.07 543.6,289.91"/>
<polyline points="401.6,285.2 417.38,284.54 433.16,272.34 448.93,285.59 464.71,288.11 480.49,280.09 496.27,285.54 512.04,288.02 527.82,278.42 543.6,288.99"/>
<polyline points="401.6,276.54 417.38,275.23 433.16,281.14 448.93,271.1 464.71,290.12 480.49,280.02 496.27,272.47 512.04,289.6 527.82,279.14 543.6,287.67"/>
<polyline points="401.6,289.89 417.38,275.26 433.16,274.25 448.93,288.97 464.71,274.15 480.49,269.77 496.27,280.11 512.04,274.6 527.82,289.28 543.6,278.58"/>
<polyline points="401.6,288.71 417.38,275.36 433.16,280.71 448.93,277.15 464.71,286.34 480.49,279.96 496.27,275.11 512.04,290.23 527.82,274.72 543.6,287.49"/>
<polyline points="401.6,274.45 417.38,287.32 433.16,273.14 448.93,285.5 464.71,272.15 480.49,276.51 496.27,279.02 512.04,286.73 527.82,280.58 543.6,290.09"/>
<polyline points="401.6,279.64 417.38,285.82 433.16,270.01 448.93,272.83 464.71,284.63 480.49,287.45 496.27,269.92 512.04,269.46 527.82,278.52 543.6,278.73"/>
<polyline points="401.6,275.41 417.38,284.55 433.16,276.02 448.93,272.94 464.71,288.06 480.49,285.35 496.27,286.67 512.04,287.59 527.82,272.46 543.6,288.86"/>
<polyline points="401.6,284.56 417.38,289.48 433.16,273.94 448.93,281.02 464.71,289.3 480.49,275.46 496.27,270.55 512.04,270.85 527.82,277.8 543.6,276.01"/>
<polyline points="401.6,284.83 417.38,290.2 433.16,288.57 448.93,270.74 464.71,274.54 480.49,271.42 496.27,274.74 512.04,288.84 527.82,273.88 543.6,270.44"/>
<polyline points="401.6,278.86 417.38,284.93 433.16,279.02 448.93,277.98 464.71,288.11 480.49,272.85 496.27,285.87 512.04,275.23 527.82,271.5 543.6,287.46"/>
<polyline points="401.6,272.49 417.38,279.04 433.16,271.65 448.93,287.73 464.71,278.65 480.49,269.78 496.27,278.3 512.04,276.61 527.82,271.86 543.6,288.97"/>
<polyline points="401.6,288.71 417.38,289.49 433.16,275.85 448.93,286.82 464.71,273.99 480.49,272.54 496.27,279.11 512.04,281.82 527.82,279.33 543.6,269.77"/>
<polyline points="401.6,271.11 417.38,273.33 433.16,269.73 448.93,285.72 464.71,277.98 480.49,273.71 496.27,270.69 512.04,278.78 527.82,287.1 543.6,277.75"/>
<polyline points="401.6,290.27 417.38,286.14 433.16,288.93 448.93,286.05 464.71,281.78 480.49,284.71 496.27,279.51 512.04,274.63 527.82,275.89 543.6,277.94"/>
<polyline points="401.6,289.8 417.38,289.75 433.16,272.63 448.93,285.57 464.71,276.84 480.49,278.92 496.27,274.18 512.04,289.38 527.82,276.29 543.6,278.34"/>
<polyline points="401.6,271.47 417.38,286.8 433.16,286.07 448.93,271.59 464.71,289.74 480.49,274.13 496.27,289.15 512.04,280.15 527.82,278.18 543.6,287.77"/>
<polyline points="401.6,272.32 417.38,285.97 433.16,288.56 448.93,272.69 464.71,270.41 480.49,288.44 496.27,277.91 512.04,288.95 527.82,271.2 543.6,269.81"/>
<polyline points="401.6,277.26 417.38,272.36 433.16,286.66 448.93,290.01 464.71,279.47 480.49,270.67 496.27,278.79 512.04,287.27 527.82,276.57 543.6,274.55"/>
<polyline points="401.6,280.18 417.38,287.99 433.16,278.02 448.93,278.45 464.71,275.17 480.49,271.82 496.27,275.53 512.04,270.07 527.82,280.2 543.6,273.3"/>
<polyline points="401.6,290.08 417.38,270.32 433.16,287.52 448.93,277.39 464.71,285.81 480.49,275.65 496.27,287.95 512.04,284.54 527.82,288.58 543.6,279.72"/>
<polyline points="401.6,289.88 417.38,287.12 433.16,279.21 448.93,285.73 464.71,276.89 480.49,288.85 496.27,280 512.04,285.87 527.82,270.38 543.6,269.83"/>
<polyline points="401.6,277.54 417.38,272.42 433.16,279.8 448.93,284.57 464.71,285.44 480.49,278.09 496.27,287.5 512.04,279.51 527.82,277.11 543.6,285.85"/>
<polyline points="401.6,278.94 417.38,271.26 433.16,274.01 448.93,285.74 464.71,270.43 480.49,277.03 496.27,271.29 512.04,288.11 527.82,276.7 543.6,280.11"/>
<polyline points="401.6,284.86 417.38,273.31 433.16,271.98 448.93,284.8 464.71,269.48 480.49,271.99 496.27,278.01 512.04,276.35 527.82,279.74 543.6,276.91"/>
<polyline points="401.6,276.8 417.38,270.98 433.16,279.66 448.93,272.1 464.71,273.13 480.49,285.1 496.27,275.42 512.04,271.68 527.82,270.75 543.6,288.27"/>
<polyline points="401.6,289.7 417.38,281.63 433.16,278.37 448.93,289.9 464.71,278.78 480.49,276.08 496.27,269.86 512.04,273.35 527.82,275.25 543.6,272.22"/>
<polyline points="401.6,270.7 417.38,280.18 433.16,271.18 448.93,275.08 464.71,270.63 480.49,278.64 496.27,276.57 512.04,272.64 527.82,284.83 543.6,286.77"/>
<polyline points="401.6,272.4 417.38,280.4 433.16,271.28 448.93,276.65 464.71,285.85 480.49,278.49 496.27,269.46 512.04,276.35 527.82,270.11 543.6,288.5"/>
<polyline points="401.6,272.24 417.38,287.03 433.16,272.95 448.93,284.58 464.71,274.17 480.49,279 496.27,274.29 512.04,270.76 527.82,270.17 543.6,290.16"/>
<polyline points="401.6,270.44 417.38,269.85 433.16,270.08 448.93,279.59 464.71,271.46 480.49,273.7 496.27,288.65 512.04,274.73 527.82,280.4 543.6,288.27"/>
<polyline points="401.6,272.06 417.38,288.77 433.16,279.11 448.93,270.38 464.71,286.8 480.49,272.05 496.27,272.48 512.04,285.29 527.82,281.1 543.6,275.58"/>
<polyline points="401.6,289.88 417.38,272.84 433.16,287.55 448.93,269.4 464.71,271.86 480.49,289.11 496.27,287.85 512.04,277.34 527.82,288.99 543.6,289.15"/>
<polyline points="401.6,274.84 417.38,287.43 433.16,269.66 448.93,269.95 464.71,278.79 480.49,279.57 496.27,289.86 512.04,269.72 527.82,276.69 543.6,276.71"/>
<polyline points="401.6,276.21 417.38,285.13 433.16,282.1 448.93,272.28 464.71,273.38 480.49,276.09 496.27,277.41 512.04,273.01 527.82,269.91 543.6,288.11"/>
<polyline points="401.6,271.59 417.38,272.85 433.16,269.95 448.93,276.08 464.71,289.61 480.49,271.49 496.27,288.37 512.04,274.94 527.82,270.48 543.6,274.51"/>
<polyline points="401.6,273.28 417.38,276.96 433.16,273.62 448.93,277.91 464.71,276.26 480.49,270.29 496.27,277.71 512.04,271.26 527.82,286.18 543.6,289.15"/>
<polyline points="401.6,285.48 417.38,288.94 433.16,288.72 448.93,272.37 464.71,269.93 480.49,270.19 496.27,284.77 512.04,278.86 527.82,270.87 543.6,280.39"/>
<polyline points="401.6,272 417.38,269.62 433.16,289.97 448.93,290.17 464.71,273.38 480.49,289.33 496.27,286.66 512.04,269.7 527.82,269.6 543.6,276.22"/>
<polyline points="401.6,288.91 417.38,269.43 433.16,279.12 448.93,289.39 464.71,272.18 480.49,287.13 496.27,281.47 512.04,271.59 527.82,275.47 543.6,273.71"/>
<polyline points="401.6,276.16 417.38,270.86 433.16,274.18 448.93,289.25 464.71,272.7 480.49,285.51 496.27,274.72 512.04,285.53 527.82,272.94 543.6,272.28"/>
<polyline points="401.6,269.8 417.38,270.12 433.16,277.17 448.93,277.8 464.71,271.58 480.49,271.27 496.27,272.73 512.04,271.96 527.82,286.65 543.6,285.17"/>
<polyline points="401.6,277.72 417.38,280.56 433.16,271.97 448.93,285.75 464.71,270.35 480.49,275.77 496.27,280.49 512.04,280.23 527.82,289.62 543.6,275.59"/>
<polyline points="401.6,277.97 417.38,273.17 433.16,287.35 448.93,278.55 464.71,277.68 480.49,270.22 496.27,269.4 512.04,274.05 527.82,271.95 543.6,270.81"/>
<polyline points="401.6,269.9 417.38,279.98 433.16,279.57 448.93,281.09 464.71,274.41 480.49,279.78 496.27,276.4 512.04,285.43 527.82,287.44 543.6,285.21"/>
<polyline points="401.6,281.46 417.38,275.26 433.16,272.27 448.93,270.08 464.71,289.48 480.49,279.95 496.27,287.31 512.04,279.28 527.82,275.2 543.6,278.06"/>
<polyline points="401.6,278.46 417.38,273.58 433.16,271.81 448.93,274.5 464.71,275.57 480.49,284.84 496.27,272.79 512.04,278.31 527.82,271.25 543.6,270.18"/>
<polyline points="401.6,286.21 417.38,276.04 433.16,289.48 448.93,274.97 464.71,288.1 480.49,271.91 496.27,279.31 512.04,276.51 527.82,269.57 543.6,286.82"/>
<polyline points="401.6,276.29 417.38,277.21 433.16,289.08 448.93,288.6 464.71,274.15 480.49,272.76 496.27,269.91 512.04,274.38 527.82,272.93 543.6,273.67"/>
<polyline points="401.6,269.7 417.38,284.48 433.16,290.24 448.93,278.67 464.71,279.98 480.49,272.94 496.27,270.14 512.04,272.84 527.82,282.25 543.6,287.75"/>
<polyline points="401.6,277.22 417.38,282.04 433.16,270.4 448.93,271.23 464.71,289.09 480.49,285.33 496.27,284.73 512.04,285.04 527.82,277.08 543.6,276.04"/>
<polyline points="401.6,280.84 417.38,269.57 433.16,285.84 448.93,289.42 464.71,273.02 480.49,269.44 496.27,273.46 512.04,279.32 527.82,274.29 543.6,270.42"/>
<polyline points="401.6,289.45 417.38,289.41 433.16,271.49 448.93,287.29 464.71,274.18 480.49,274.38 496.27,289.95 512.04,278.24 527.82,278.17 543.6,278.17"/>
<polyline points="401.6,287.45 417.38,276.92 433.16,278.44 448.93,271.12 464.71,274.85 480.49,273.68 496.27,289.88 512.04,288.32 527.82,286.42 543.6,277.27"/>
<polyline points="401.6,270.04 417.38,289.38 433.16,277.07 448.93,272.52 464.71,279.25 480.49,289.57 496.27,273.18 512.04,286.56 527.82,287.27 543.6,280.24"/>
<polyline points="401.6,272.41 417.38,279.22 433.16,275.7 448.93,280.42 464.71,282.19 480.49,287.92 496.27,289.78 512.04,269.44 527.82,277.84 543.6,278.44"/>
<polyline points="401.6,272.72 417.38,279.4 433.16,287.05 448.93,270.22 464.71,287.3 480.49,278.84 496.27,274.94 512.04,277.49 527.82,271.34 543.6,279.62"/>
<polyline points="401.6,279.84 417.38,272.62 433.16,269.63 448.93,286.02 464.71,280.07 480.49,281.08 496.27,272.34 512.04,272.64 527.82,272.46 543.6,284.45"/>
<polyline points="401.6,282.19 417.38,285.96 433.16,273.3 448.93,285.09 464.71,280.03 480.49,272.91 496.27,290.05 512.04,270.69 527.82,277.15 543.6,271.65"/>
<polyline points="401.6,273.86 417.38,273.22 433.16,274.12 448.93,287.2 464.71,276.9 480.49,274.77 496.27,278.44 512.04,287.29 527.82,275.88 543.6,278.97"/>
<polyline points="401.6,277.71 417.38,272.55 433.16,274.69 448.93,284.77 464.71,276.42 480.49,287.9 496.27,271.3 512.04,272.25 527.82,287.6 543.6,277.3"/>
<polyline points="401.6,271.99 417.38,278.65 433.16,285.61 448.93,272.86 464.71,272.67 480.49,289.94 496.27,281.5 512.04,274.6 527.82,269.73 543.6,278.34"/>
<polyline points="401.6,280.14 417.38,272.18 433.16,276.49 448.93,287.39 464.71,270.47 480.49,270.77 496.27,275.84 512.04,269.65 527.82,289.36 543.6,284.79"/>
<polyline points="401.6,276.98 417.38,270.52 433.16,278.87 448.93,276.43 464.71,284.9 480.49,276.14 496.27,277.99 512.04,287.97 527.82,281.98 543.6,271.92"/>
<polyline points="401.6,272.82 417.38,278.92 433.16,286.27 448.93,277.47 464.71,285.19 480.49,278.29 496.27,274.02 512.04,281.42 527.82,273.22 543.6,274.77"/>
<polyline points="401.6,289.03 417.38,275.9 433.16,270.4 448.93,284.4 464.71,285.18 480.49,286.79 496.27,281.38 512.04,271.38 527.82,285.66 543.6,269.51"/>
<polyline points="401.6,288.03 417.38,286.56 433.16,271.04 448.93,276.27 464.71,280.2 480.49,285.8 496.27,269.45 512.04,287.54 527.82,290.29 543.6,289.76"/>
<polyline points="401.6,275.71 417.38,277.53 433.16,274.7 448.93,279.2 464.71,274.97 480.49,270.84 496.27,285.05 512.04,276.92 527.82,274.15 543.6,289.8"/>
<polyline points="401.6,276.49 417.38,286.38 433.16,277.03 448.93,271.01 464.71,275.89 480.49,276.6 496.27,279.31 512.04,272.99 527.82,276.03 543.6,285.58"/>
<polyline points="401.6,271.15 417.38,272.22 433.16,288.99 448.93,272.79 464.71,274.93 480.49,278.79 496.27,286.44 512.04,277.94 527.82,279.7 543.6,279.17"/>
<polyline points="401.6,277.2 417.38,279.74 433.16,273.53 448.93,288.45 464.71,274.35 480.49,271.71 496.27,278.44 512.04,271.17 527.82,272.01 543.6,275.51"/>
<polyline points="401.6,271.26 417.38,280.17 433.16,281.48 448.93,269.67 464.71,277.82 480.49,279.09 496.27,274.65 512.04,284.98 527.82,271.17 543.6,274.5"/>
<polyline points="401.6,278.71 417.38,276.88 433.16,288.29 448.93,289.87 464.71,279.94 480.49,288.55 496.27,284.8 512.04,270.74 527.82,275.61 543.6,277.64"/>
<polyline points="401.6,271.38 417.38,278.37 433.16,284.77 448.93,273.58 464.71,279.59 480.49,275.32 496.27,275.42 512.04,284.58 527.82,285.85 543.6,278.09"/>
<polyline points="401.6,276.16 417.38,289 433.16,276.51 448.93,274.88 464.71,285.8 480.49,270.68 496.27,278.62 512.04,272.24 527.82,276.03 543.6,279.43"/>
<polyline points="401.6,275.23 417.38,271.64 433.16,285.98 448.93,271.36 464.71,288.65 480.49,275.1 496.27,273.97 512.04,287.69 527.82,285.53 543.6,285.33"/>
<polyline points="401.6,273.71 417.38,279.87 433.16,277.49 448.93,271.64 464.71,271.33 480.49,272.89 496.27,278.91 512.04,287.84 527.82,279.5 543.6,285.12"/>
<polyline points="401.6,279.51 417.38,286.85 433.16,287.46 448.93,275.62 464.71,271.1 480.49,284.74 496.27,290.07 512.04,274.07 527.82,278.51 543.6,277.3"/>
<polyline points="401.6,278.36 417.38,273.17 433.16,275.13 448.93,286.45 464.71,279.44 480.49,272.23 496.27,285.29 512.04,281.14 527.82,289.8 543.6,289.78"/>
<polyline points="401.6,278.05 417.38,275.35 433.16,271.62 448.93,280.05 464.71,290.25 480.49,280.14 496.27,271.71 512.04,278.63 527.82,285.78 543.6,270.1"/>
<polyline points="401.6,277.22 417.38,284.63 433.16,275.61 448.93,271.84 464.71,275.18 480.49,287.87 496.27,276.01 512.04,274.19 527.82,274.01 543.6,286.97"/>
<polyline points="401.6,280.62 417.38,270.63 433.16,281.92 448.93,273.36 464.71,275.25 480.49,288.51 496.27,272.28 512.04,286.46 527.82,273.07 543.6,287.66"/>
<polyline points="401.6,273.76 417.38,279.83 433.16,277.56 448.93,277.31 464.71,271.41 480.49,285.93 496.27,284.7 512.04,285.97 527.82,279.05 543.6,274.88"/>
<polyline points="401.6,279.92 417.38,277.39 433.16,276.32 448.93,278.36 464.71,277.1 480.49,271.14 496.27,271.98 512.04,289.65 527.82,287.62 543.6,278.71"/>
<polyline points="401.6,271.9 417.38,289.39 433.16,275.79 448.93,270.45 464.71,286.95 480.49,281.47 496.27,270.26 512.04,273.88 527.82,280.91 543.6,280.13"/>
<polyline points="401.6,272.42 417.38,288.06 433.16,287.47 448.93,289.4 464.71,289.81 480.49,289.14 496.27,279.69 512.04,275.9 527.82,288.86 543.6,281.21"/>
<polyline points="401.6,280.32 417.38,276.01 433.16,270.82 448.93,289.92 464.71,273.87 480.49,277.68 496.27,278.95 512.04,277.63 527.82,277.4 543.6,286.46"/>
<polyline points="401.6,285.51 417.38,278.35 433.16,287.26 448.93,272.38 464.71,275.96 480.49,277.74 496.27,270.5 512.04,269.97 527.82,285.43 543.6,278.7"/>
<polyline points="401.6,273.18 417.38,274.21 433.16,285.14 448.93,288.75 464.71,278.84 480.49,272.44 496.27,286.35 512.04,287.46 527.82,272.74 543.6,289.16"/>
<polyline points="401.6,276.22 417.38,276.43 433.16,272.15 448.93,276.08 464.71,274.71 480.49,284.62 496.27,271.74 512.04,275.3 527.82,278.19 543.6,272.43"/>
<polyline points="401.6,271.14 417.38,277.82 433.16,275.19 448.93,276.5 464.71,271.04 480.49,272.94 496.27,289.37 512.04,278.59 527.82,280.24 543.6,286.01"/>
<polyline points="401.6,285.23 417.38,270.97 433.16,277.82 448.93,281.95 464.71,276.36 480.49,285.15 496.27,282.3 512.04,278.36 527.82,290.15 543.6,286.06"/>
<polyline points="401.6,274.84 417.38,288.59 433.16,276.46 448.93,270.57 464.71,285.23 480.49,286.05 496.27,272.64 512.04,271.36 527.82,287.07 543.6,287.91"/>
<polyline points="401.6,286.07 417.38,271.72 433.16,273.73 448.93,271.36 464.71,277.05 480.49,276.47 496.27,288.31 512.04,270.1 527.82,273.01 543.6,271.74"/>
<polyline points="401.6,275.35 417.38,277.15 433.16,286.6 448.93,278.08 464.71,270.5 480.49,289.49 496.27,276.94 512.04,269.41 527.82,271.57 543.6,279.14"/>
<polyline points="401.6,279.13 417.38,287.59 433.16,287.43 448.93,269.85 464.71,270.96 480.49,273.88 496.27,288.48 512.04,276.17 527.82,274.83 543.6,273.65"/>
<polyline points="401.6,278.72 417.38,281.95 433.16,289.97 448.93,271.1 464.71,269.73 480.49,273.89 496.27,281.94 512.04,277.9 527.82,280.87 543.6,276.41"/>
<polyline points="401.6,276.05 417.38,285.93 433.16,273.74 448.93,286.72 464.71,269.52 480.49,281.23 496.27,272.99 512.04,284.8 527.82,270.48 543.6,286.85"/>
<polyline points="401.6,277.44 417.38,273.53 433.16,274.38 448.93,274.11 464.71,274.12 480.49,281.56 496.27,274.28 512.04,269.7 527.82,275.15 543.6,274.5"/>
<polyline points="401.6,269.93 417.38,288.38 433.16,280.97 448.93,281.53 464.71,271.49 480.49,288.02 496.27,286.09 512.04,273.66 527.82,273.88 543.6,271.72"/>
<polyline points="401.6,278.1 417.38,276.29 433.16,271.46 448.93,286.96 464.71,270.05 480.49,288.68 496.27,270.04 512.04,285.27 527.82,274.33 543.6,280.89"/>
<polyline points="401.6,279.4 417.38,288.49 433.16,273.95 448.93,285.51 464.71,279.59 480.49,271.27 496.27,284.68 512.04,278.35 527.82,285.12 543.6,280.32"/>
<polyline points="401.6,271.79 417.38,271.15 433.16,277.02 448.93,270.2 464.71,272.78 480.49,270.97 496.27,277.71 512.04,287.06 527.82,285.16 543.6,278.16"/>
<polyline points="401.6,272.89 417.38,285.65 433.16,277.3 448.93,288.62 464.71,275.29 480.49,279.35 496.27,288.21 512.04,279.31 527.82,285.8 543.6,286.31"/>
<polyline points="401.6,288.82 417.38,270.71 433.16,275.5 448.93,288.26 464.71,285.59 480.49,271.67 496.27,272.6 512.04,288 527.82,288.61 543.6,278.56"/>
<polyline points="401.6,277.62 417.38,273.28 433.16,276.36 448.93,270.01 464.71,274.11 480.49,277.97 496.27,289.68 512.04,271.84 527.82,287.72 543.6,275.12"/>
<polyline points="401.6,271.07 417.38,276.41 433.16,286.5 448.93,270.18 464.71,277.29 480.49,277.55 496.27,275.27 512.04,270.36 527.82,275.15 543.6,279.66"/>
<polyline points="401.6,273.26 417.38,275.94 433.16,281.65 448.93,271.29 464.71,271.19 480.49,285.8 496.27,275.97 512.04,285.52 527.82,280.46 543.6,278.46"/>
<polyline points="401.6,275.93 417.38,270.53 433.16,273.34 448.93,280.16 464.71,287.2 480.49,275.53 496.27,275.94 512.04,275.88 527.82,284.69 543.6,274.39"/>
<polyline points="401.6,278.06 417.38,274.97 433.16,269.59 448.93,278.66 464.71,289.35 480.49,271.69 496.27,278.24 512.04,275.59 527.82,274.5 543.6,289.9"/>
<polyline points="401.6,272.72 417.38,270.22 433.16,277.36 448.93,286.99 464.71,278.41 480.49,287.39 496.27,285.9 512.04,277.66 527.82,278.29 543.6,289.22"/>
<polyline points="401.6,275.45 417.38,276.77 433.16,273.77 448.93,276.2 464.71,278.89 480.49,272.9 496.27,273.28 512.04,288.3 527.82,285.26 543.6,287.64"/>
<polyline points="401.6,271.69 417.38,277.37 433.16,286.09 448.93,285.98 464.71,271.93 480.49,271.33 496.27,276.38 512.04,282.01 527.82,281.55 543.6,276.25"/>
<polyline points="401.6,277.19 417.38,285.61 433.16,271.98 448.93,281.41 464.71,278.5 480.49,282.3 496.27,286.32 512.04,273.31 527.82,272.23 543.6,278.67"/>
<polyline points="401.6,273.75 417.38,278.79 433.16,276.83 448.93,288.22 464.71,273.98 480.49,285.93 496.27,285.81 512.04,289.72 527.82,287.22 543.6,285.02"/>
<polyline points="401.6,277.61 417.38,272.64 433.16,277.99 448.93,269.83 464.71,288.33 480.49,278.78 496.27,270.45 512.04,285.3 527.82,281.92 543.6,277.76"/>
<polyline points="401.6,289.6 417.38,279.96 433.16,288.81 448.93,275.54 464.71,274.58 480.49,272.33 496.27,270.24 512.04,274.17 527.82,277 543.6,285.01"/>
<polyline points="401.6,280.3 417.38,270.56 433.16,286.11 448.93,287.1 464.71,276.73 480.49,272.98 496.27,286.56 512.04,269.56 527.82,286.05 543.6,288.66"/>
<polyline points="401.6,289.41 417.38,279.13 433.16,280.34 448.93,270.84 464.71,289 480.49,275.25 496.27,276.89 512.04,269.82 527.82,269.73 543.6,278.75"/>
<polyline points="401.6,269.99 417.38,285.23 433.16,272.05 448.93,280.28 464.71,280.24 480.49,272.34 496.27,272.76 512.04,272.03 527.82,284.72 543.6,271.46"/>
<polyline points="401.6,271.36 417.38,274.36 433.16,287.38 448.93,285.16 464.71,275.8 480.49,269.93 496.27,280.57 512.04,272.29 527.82,281.86 543.6,275.63"/>
<polyline points="401.6,271.34 417.38,290.13 433.16,277.78 448.93,289.48 464.71,272.15 480.49,289.42 496.27,272.99 512.04,279.78 527.82,269.94 543.6,287.79"/>
<polyline points="401.6,284.34 417.38,284.6 433.16,272.24 448.93,286.14 464.71,275 480.49,287.24 496.27,279.78 512.04,275.86 527.82,288.87 543.6,273.18"/>
<polyline points="401.6,270.53 417.38,274.74 433.16,278.54 448.93,288.34 464.71,279.89 480.49,281.45 496.27,275.08 512.04,272.62 527.82,271.95 543.6,272.27"/>
<polyline points="401.6,286.98 417.38,271.76 433.16,288.24 448.93,271.45 464.71,279.98 480.49,289.66 496.27,272.09 512.04,271.72 527.82,274.16 543.6,273.17"/>
<polyline points="401.6,273.85 417.38,271.97 433.16,279.81 448.93,275.84 464.71,274.17 480.49,276.22 496.27,276.47 512.04,280.44 527.82,285.99 543.6,275.51"/>
<polyline points="401.6,276.52 417.38,290.21 433.16,270.01 448.93,287.52 464.71,281 480.49,271.1 496.27,288.78 512.04,271.53 527.82,276.26 543.6,285.53"/>
<polyline points="401.6,270.87 417.38,286.75 433.16,272.43 448.93,279.57 464.71,285.93 480.49,285.46 496.27,275.21 512.04,270.08 527.82,280.28 543.6,275.85"/>
<polyline points="401.6,284.75 417.38,279.93 433.16,288.25 448.93,277.06 464.71,271.35 480.49,286 496.27,269.96 512.04,277.03 527.82,280.1 543.6,273.46"/>
<polyline points="401.6,276.83 417.38,289.56 433.16,279.18 448.93,273.51 464.71,274.71 480.49,286.8 496.27,285.62 512.04,288.73 527.82,270.34 543.6,289.15"/>
<polyline points="401.6,289.02 417.38,276.17 433.16,276.06 448.93,276.15 464.71,270.39 480.49,270.2 496.27,284.46 512.04,272.8 527.82,277.77 543.6,285.01"/>
<polyline points="401.6,272.61 417.38,274.58 433.16,289.24 448.93,272.8 464.71,282.23 480.49,275.7 496.27,288.75 512.04,285.38 527.82,277.04 543.6,288.56"/>
<polyline points="401.6,288.23 417.38,271.62 433.16,270.59 448.93,280.06 464.71,289.32 480.49,287.14 496.27,273.89 512.04,278.17 527.82,272 543.6,281.23"/>
<polyline points="401.6,277.98 417.38,280 433.16,276.66 448.93,277.43 464.71,289.11 480.49,269.6 496.27,272.8 512.04,288.67 527.82,284.41 543.6,286.64"/>
<polyline points="401.6,278.95 417.38,270.1 433.16,289.32 448.93,273.07 464.71,279.05 480.49,280.1 496.27,288.85 512.04,275.17 527.82,272.29 543.6,275.27"/>
<polyline points="401.6,285.33 417.38,288.4 433.16,286.7 448.93,279.82 464.71,285.21 480.49,280.14 496.27,271.56 512.04,279.41 527.82,277.14 543.6,289.32"/>
<polyline points="401.6,279.85 417.38,274.29 433.16,276.06 448.93,280.48 464.71,270.07 480.49,270.21 496.27,274.47 512.04,274.04 527.82,288.77 543.6,285.07"/>
<polyline points="401.6,276.01 417.38,280.26 433.16,271.54 448.93,270.63 464.71,279.56 480.49,272.67 496.27,276.82 512.04,285.33 527.82,271.37 543.6,277.11"/>
<polyline points="401.6,272.09 417.38,276.7 433.16,276.06 448.93,271.93 464.71,276.58 480.49,285.01 496.27,277.32 512.04,289.13 527.82,281.36 543.6,274.55"/>
<polyline points="401.6,274.42 417.38,274.22 433.16,284.8 448.93,289.47 464.71,273.26 480.49,272.68 496.27,281.12 512.04,288.88 527.82,279.45 543.6,271.82"/>
<polyline points="401.6,290.08 417.38,289.56 433.16,289.04 448.93,289.26 464.71,289.74 480.49,289.63 496.27,289.91 512.04,288.96 527.82,289.21 543.6,289.35"/>
<polyline points="401.6,289.88 417.38,289.28 433.16,289.62 448.93,289.19 464.71,289.79 480.49,289.07 496.27,289.35 512.04,289.67 527.82,289.52 543.6,289.18"/>
<polyline points="401.6,289.56 417.38,288.96 433.16,290.29 448.93,289.05 464.71,289.3 480.49,289.62 496.27,289.11 512.04,290.09 527.82,289.83 543.6,289.3"/>
<polyline points="401.6,289.15 417.38,289.78 433.16,288.91 448.93,289.4 464.71,290.24 480.49,290.13 496.27,290.19 512.04,289.51 527.82,289.85 543.6,289.94"/>
<polyline points="401.6,289.68 417.38,290.19 433.16,289.03 448.93,289.13 464.71,289.52 480.49,289.68 496.27,289.87 512.04,289.46 527.82,289.82 543.6,288.94"/>
<polyline points="401.6,288.97 417.38,289.29 433.16,289.15 448.93,290.2 464.71,290.13 480.49,289.82 496.27,290.12 512.04,289.71 527.82,288.92 543.6,289.14"/>
<polyline points="401.6,288.96 417.38,289.99 433.16,289.99 448.93,290.27 464.71,289.92 480.49,290.22 496.27,289.56 512.04,289.88 527.82,289.36 543.6,289.52"/>
<polyline points="401.6,289.47 417.38,289.88 433.16,289.28 448.93,289.34 464.71,289.3 480.49,289.64 496.27,289.65 512.04,289.9 527.82,290.24 543.6,289.65"/>
</g>
<g font-family='"Liberation Serif", "DejaVu Serif", serif' font-size="5.5" fill="#5f5f5f">
<text x="417.38" y="298.30" text-anchor="middle">2</text>
<text x="448.93" y="298.30" text-anchor="middle">4</text>
<text x="480.49" y="298.30" text-anchor="middle">6</text>
<text x="512.04" y="298.30" text-anchor="middle">8</text>
<text x="543.60" y="298.30" text-anchor="middle">10</text>
<text x="399.60" y="292.50" text-anchor="end">0</text>
<text x="399.60" y="272.35" text-anchor="end">0.2</text>
<text x="399.60" y="252.20" text-anchor="end">0.4</text>
<text x="399.60" y="232.04" text-anchor="end">0.6</text>
<text x="399.60" y="211.89" text-anchor="end">0.8</text>
<text x="399.60" y="191.74" text-anchor="end">1</text>
</g>
<g font-family='"Liberation Serif", "DejaVu Serif", serif' font-weight="bold" font-size="8.8" fill="#111">
<text x="472.60" y="181.40" text-anchor="middle">ART-DMaOEA on MaF3</text>
<text x="472.60" y="307.70" text-anchor="middle">Dimension No.</text>
<text transform="translate(389.60 237.30) rotate(-90)" text-anchor="middle">Value</text>
</g>
<text x="467.50" y="326.90" text-anchor="middle" font-family='"Liberation Serif", "DejaVu Serif", serif' font-size="10.2" fill="#111">(f)</text>
<rect x="546.2" y="0" width="4" height="331" fill="#fff"/>
</svg></body></html>
